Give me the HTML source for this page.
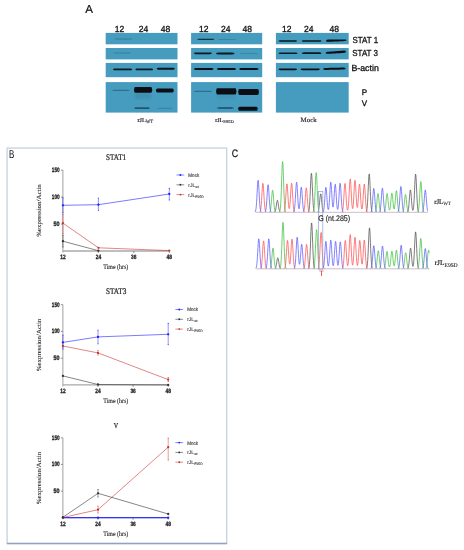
<!DOCTYPE html>
<html><head><meta charset="utf-8"><style>
html,body{margin:0;padding:0;background:#fff;}
body{width:464px;height:550px;overflow:hidden;font-family:"Liberation Sans",sans-serif;}
svg{display:block;will-change:transform;text-rendering:geometricPrecision;}
</style></head><body>
<svg width="464" height="550" viewBox="0 0 464 550">
<defs><filter id="bl" x="-10%" y="-100%" width="120%" height="300%"><feGaussianBlur stdDeviation="0.45"/></filter><filter id="bl2" x="-30%" y="-60%" width="160%" height="220%"><feGaussianBlur stdDeviation="1.3"/></filter></defs>
<text x="85.2" y="13.2" font-family="Liberation Sans" font-size="11.6" fill="#111" text-anchor="start" font-weight="normal" stroke="#111" stroke-width="0.2" >A</text>
<rect x="105.7" y="32.9" width="71.8" height="11.4" fill="#459cbf"/>
<rect x="105.7" y="48.0" width="71.8" height="11.4" fill="#459cbf"/>
<rect x="105.7" y="62.9" width="71.8" height="14.3" fill="#459cbf"/>
<rect x="105.7" y="82.1" width="71.8" height="30.5" fill="#459cbf"/>
<rect x="191.1" y="32.9" width="71.1" height="11.4" fill="#459cbf"/>
<rect x="191.1" y="48.0" width="71.1" height="11.4" fill="#459cbf"/>
<rect x="191.1" y="62.9" width="71.1" height="14.3" fill="#459cbf"/>
<rect x="191.1" y="82.1" width="71.1" height="30.5" fill="#459cbf"/>
<rect x="275.9" y="32.9" width="72.8" height="11.4" fill="#459cbf"/>
<rect x="275.9" y="48.0" width="72.8" height="11.4" fill="#459cbf"/>
<rect x="275.9" y="62.9" width="72.8" height="14.3" fill="#459cbf"/>
<rect x="275.9" y="82.1" width="72.8" height="30.5" fill="#459cbf"/>
<text x="114.7" y="31.6" font-family="Liberation Sans" font-size="8.9" fill="#111" text-anchor="start" font-weight="normal" textLength="9.5" lengthAdjust="spacingAndGlyphs" stroke="#111" stroke-width="0.3" >12</text>
<text x="138.8" y="31.6" font-family="Liberation Sans" font-size="8.9" fill="#111" text-anchor="start" font-weight="normal" textLength="9.5" lengthAdjust="spacingAndGlyphs" stroke="#111" stroke-width="0.3" >24</text>
<text x="160.8" y="31.6" font-family="Liberation Sans" font-size="8.9" fill="#111" text-anchor="start" font-weight="normal" textLength="9.5" lengthAdjust="spacingAndGlyphs" stroke="#111" stroke-width="0.3" >48</text>
<text x="199.0" y="31.6" font-family="Liberation Sans" font-size="8.9" fill="#111" text-anchor="start" font-weight="normal" textLength="9.5" lengthAdjust="spacingAndGlyphs" stroke="#111" stroke-width="0.3" >12</text>
<text x="221.0" y="31.6" font-family="Liberation Sans" font-size="8.9" fill="#111" text-anchor="start" font-weight="normal" textLength="9.5" lengthAdjust="spacingAndGlyphs" stroke="#111" stroke-width="0.3" >24</text>
<text x="242.5" y="31.6" font-family="Liberation Sans" font-size="8.9" fill="#111" text-anchor="start" font-weight="normal" textLength="9.5" lengthAdjust="spacingAndGlyphs" stroke="#111" stroke-width="0.3" >48</text>
<text x="282.0" y="31.6" font-family="Liberation Sans" font-size="8.9" fill="#111" text-anchor="start" font-weight="normal" textLength="9.5" lengthAdjust="spacingAndGlyphs" stroke="#111" stroke-width="0.3" >12</text>
<text x="304.1" y="31.6" font-family="Liberation Sans" font-size="8.9" fill="#111" text-anchor="start" font-weight="normal" textLength="9.5" lengthAdjust="spacingAndGlyphs" stroke="#111" stroke-width="0.3" >24</text>
<text x="329.5" y="31.6" font-family="Liberation Sans" font-size="8.9" fill="#111" text-anchor="start" font-weight="normal" textLength="9.5" lengthAdjust="spacingAndGlyphs" stroke="#111" stroke-width="0.3" >48</text>
<text x="352.5" y="42.7" font-family="Liberation Sans" font-size="8.8" fill="#111" text-anchor="start" font-weight="normal" textLength="25.7" lengthAdjust="spacingAndGlyphs" stroke="#111" stroke-width="0.3" >STAT 1</text>
<text x="352.3" y="56.0" font-family="Liberation Sans" font-size="8.8" fill="#111" text-anchor="start" font-weight="normal" textLength="25.7" lengthAdjust="spacingAndGlyphs" stroke="#111" stroke-width="0.3" >STAT 3</text>
<text x="351.4" y="71.2" font-family="Liberation Sans" font-size="8.8" fill="#111" text-anchor="start" font-weight="normal" textLength="27.4" lengthAdjust="spacingAndGlyphs" stroke="#111" stroke-width="0.3" >B-actin</text>
<text x="361.8" y="94.8" font-family="Liberation Sans" font-size="8.0" fill="#111" text-anchor="start" font-weight="normal" stroke="#111" stroke-width="0.3" >P</text>
<text x="361.8" y="105.9" font-family="Liberation Sans" font-size="8.0" fill="#111" text-anchor="start" font-weight="normal" stroke="#111" stroke-width="0.3" >V</text>
<text x="137.6" y="121.7" font-family="Liberation Serif" font-size="6.1" fill="#222" stroke="#222" stroke-width="0.2">rJL<tspan font-size="4.8" dy="1.0" stroke-width="0.1">WT</tspan></text>
<text x="215.2" y="121.7" font-family="Liberation Serif" font-size="6.1" fill="#222" stroke="#222" stroke-width="0.2">rJL<tspan font-size="4.5" dy="1.0" stroke-width="0.1">E95D</tspan></text>
<text x="300.6" y="121.6" font-family="Liberation Serif" font-size="6.6" fill="#222" text-anchor="start" font-weight="normal" textLength="16.1" lengthAdjust="spacingAndGlyphs" stroke="#222" stroke-width="0.15" >Mock</text>
<g filter="url(#bl)">
<path d="M114.60,39.00 L115.05,38.71 L115.50,38.61 L115.96,38.56 L116.41,38.52 L116.86,38.50 L117.31,38.50 L117.77,38.50 L118.22,38.50 L118.67,38.50 L119.12,38.50 L119.58,38.50 L120.03,38.50 L120.48,38.50 L120.93,38.50 L121.39,38.50 L121.84,38.50 L122.29,38.50 L122.74,38.50 L123.20,38.50 L123.65,38.50 L124.10,38.50 L124.55,38.50 L125.01,38.50 L125.46,38.50 L125.91,38.50 L126.36,38.50 L126.82,38.50 L127.27,38.50 L127.72,38.50 L128.17,38.50 L128.63,38.50 L129.08,38.50 L129.53,38.50 L129.98,38.50 L130.44,38.50 L130.89,38.52 L131.34,38.56 L131.79,38.61 L132.25,38.71 L132.70,39.00 L132.70,39.00 L132.25,39.29 L131.79,39.39 L131.34,39.44 L130.89,39.48 L130.44,39.50 L129.98,39.50 L129.53,39.50 L129.08,39.50 L128.63,39.50 L128.17,39.50 L127.72,39.50 L127.27,39.50 L126.82,39.50 L126.36,39.50 L125.91,39.50 L125.46,39.50 L125.01,39.50 L124.55,39.50 L124.10,39.50 L123.65,39.50 L123.20,39.50 L122.74,39.50 L122.29,39.50 L121.84,39.50 L121.39,39.50 L120.93,39.50 L120.48,39.50 L120.03,39.50 L119.58,39.50 L119.12,39.50 L118.67,39.50 L118.22,39.50 L117.77,39.50 L117.31,39.50 L116.86,39.50 L116.41,39.48 L115.96,39.44 L115.50,39.39 L115.05,39.29 L114.60,39.00Z" fill="#0a1013" fill-opacity="0.22"/>
<path d="M113.00,52.90 L113.45,52.61 L113.90,52.52 L114.35,52.46 L114.80,52.42 L115.25,52.40 L115.70,52.40 L116.15,52.40 L116.60,52.40 L117.05,52.40 L117.50,52.40 L117.95,52.40 L118.40,52.40 L118.85,52.40 L119.30,52.40 L119.75,52.40 L120.20,52.40 L120.65,52.40 L121.10,52.40 L121.55,52.40 L122.00,52.40 L122.45,52.40 L122.90,52.40 L123.35,52.40 L123.80,52.40 L124.25,52.40 L124.70,52.40 L125.15,52.40 L125.60,52.40 L126.05,52.40 L126.50,52.40 L126.95,52.40 L127.40,52.40 L127.85,52.40 L128.30,52.40 L128.75,52.40 L129.20,52.42 L129.65,52.46 L130.10,52.52 L130.55,52.61 L131.00,52.90 L131.00,52.90 L130.55,53.19 L130.10,53.28 L129.65,53.34 L129.20,53.38 L128.75,53.40 L128.30,53.40 L127.85,53.40 L127.40,53.40 L126.95,53.40 L126.50,53.40 L126.05,53.40 L125.60,53.40 L125.15,53.40 L124.70,53.40 L124.25,53.40 L123.80,53.40 L123.35,53.40 L122.90,53.40 L122.45,53.40 L122.00,53.40 L121.55,53.40 L121.10,53.40 L120.65,53.40 L120.20,53.40 L119.75,53.40 L119.30,53.40 L118.85,53.40 L118.40,53.40 L117.95,53.40 L117.50,53.40 L117.05,53.40 L116.60,53.40 L116.15,53.40 L115.70,53.40 L115.25,53.40 L114.80,53.38 L114.35,53.34 L113.90,53.28 L113.45,53.19 L113.00,52.90Z" fill="#0a1013" fill-opacity="0.2"/>
<path d="M113.00,69.40 L113.48,68.84 L113.96,68.65 L114.44,68.54 L114.92,68.48 L115.40,68.45 L115.88,68.45 L116.36,68.45 L116.84,68.45 L117.32,68.45 L117.80,68.45 L118.28,68.45 L118.76,68.45 L119.24,68.45 L119.72,68.45 L120.20,68.45 L120.68,68.45 L121.16,68.45 L121.64,68.45 L122.12,68.45 L122.60,68.45 L123.08,68.45 L123.56,68.45 L124.04,68.45 L124.52,68.45 L125.00,68.45 L125.48,68.45 L125.96,68.45 L126.44,68.45 L126.92,68.45 L127.40,68.45 L127.88,68.45 L128.36,68.45 L128.84,68.45 L129.32,68.45 L129.80,68.45 L130.28,68.48 L130.76,68.54 L131.24,68.65 L131.72,68.84 L132.20,69.40 L132.20,69.40 L131.72,69.96 L131.24,70.15 L130.76,70.26 L130.28,70.32 L129.80,70.35 L129.32,70.35 L128.84,70.35 L128.36,70.35 L127.88,70.35 L127.40,70.35 L126.92,70.35 L126.44,70.35 L125.96,70.35 L125.48,70.35 L125.00,70.35 L124.52,70.35 L124.04,70.35 L123.56,70.35 L123.08,70.35 L122.60,70.35 L122.12,70.35 L121.64,70.35 L121.16,70.35 L120.68,70.35 L120.20,70.35 L119.72,70.35 L119.24,70.35 L118.76,70.35 L118.28,70.35 L117.80,70.35 L117.32,70.35 L116.84,70.35 L116.36,70.35 L115.88,70.35 L115.40,70.35 L114.92,70.32 L114.44,70.26 L113.96,70.15 L113.48,69.96 L113.00,69.40Z" fill="#0a1013" fill-opacity="0.95"/>
<path d="M135.40,69.40 L135.84,68.86 L136.28,68.67 L136.73,68.56 L137.17,68.49 L137.61,68.46 L138.06,68.45 L138.50,68.45 L138.94,68.45 L139.38,68.45 L139.82,68.45 L140.27,68.45 L140.71,68.45 L141.15,68.45 L141.59,68.45 L142.04,68.45 L142.48,68.45 L142.92,68.45 L143.37,68.45 L143.81,68.45 L144.25,68.45 L144.69,68.45 L145.13,68.45 L145.58,68.45 L146.02,68.45 L146.46,68.45 L146.91,68.45 L147.35,68.45 L147.79,68.45 L148.23,68.45 L148.68,68.45 L149.12,68.45 L149.56,68.45 L150.00,68.45 L150.44,68.45 L150.89,68.46 L151.33,68.49 L151.77,68.56 L152.22,68.67 L152.66,68.86 L153.10,69.40 L153.10,69.40 L152.66,69.94 L152.22,70.13 L151.77,70.24 L151.33,70.31 L150.89,70.34 L150.44,70.35 L150.00,70.35 L149.56,70.35 L149.12,70.35 L148.68,70.35 L148.23,70.35 L147.79,70.35 L147.35,70.35 L146.91,70.35 L146.46,70.35 L146.02,70.35 L145.58,70.35 L145.13,70.35 L144.69,70.35 L144.25,70.35 L143.81,70.35 L143.37,70.35 L142.92,70.35 L142.48,70.35 L142.04,70.35 L141.59,70.35 L141.15,70.35 L140.71,70.35 L140.27,70.35 L139.82,70.35 L139.38,70.35 L138.94,70.35 L138.50,70.35 L138.06,70.35 L137.61,70.34 L137.17,70.31 L136.73,70.24 L136.28,70.13 L135.84,69.94 L135.40,69.40Z" fill="#0a1013" fill-opacity="0.95"/>
<path d="M156.70,68.70 L157.15,68.10 L157.60,67.89 L158.06,67.77 L158.51,67.69 L158.96,67.65 L159.41,67.65 L159.87,67.65 L160.32,67.65 L160.77,67.65 L161.22,67.65 L161.68,67.65 L162.13,67.65 L162.58,67.65 L163.03,67.65 L163.49,67.65 L163.94,67.65 L164.39,67.65 L164.84,67.65 L165.30,67.65 L165.75,67.65 L166.20,67.65 L166.66,67.65 L167.11,67.65 L167.56,67.65 L168.01,67.65 L168.47,67.65 L168.92,67.65 L169.37,67.65 L169.82,67.65 L170.28,67.65 L170.73,67.65 L171.18,67.65 L171.63,67.65 L172.09,67.65 L172.54,67.65 L172.99,67.69 L173.44,67.77 L173.90,67.89 L174.35,68.10 L174.80,68.70 L174.80,68.70 L174.35,69.30 L173.90,69.51 L173.44,69.63 L172.99,69.71 L172.54,69.75 L172.09,69.75 L171.63,69.75 L171.18,69.75 L170.73,69.75 L170.28,69.75 L169.82,69.75 L169.37,69.75 L168.92,69.75 L168.47,69.75 L168.01,69.75 L167.56,69.75 L167.11,69.75 L166.66,69.75 L166.20,69.75 L165.75,69.75 L165.30,69.75 L164.84,69.75 L164.39,69.75 L163.94,69.75 L163.49,69.75 L163.03,69.75 L162.58,69.75 L162.13,69.75 L161.68,69.75 L161.22,69.75 L160.77,69.75 L160.32,69.75 L159.87,69.75 L159.41,69.75 L158.96,69.75 L158.51,69.71 L158.06,69.63 L157.60,69.51 L157.15,69.30 L156.70,68.70Z" fill="#0a1013" fill-opacity="0.95"/>
<path d="M112.20,90.30 L112.64,89.96 L113.09,89.84 L113.53,89.77 L113.97,89.73 L114.41,89.70 L114.86,89.70 L115.30,89.70 L115.74,89.70 L116.18,89.70 L116.62,89.70 L117.07,89.70 L117.51,89.70 L117.95,89.70 L118.40,89.70 L118.84,89.70 L119.28,89.70 L119.72,89.70 L120.17,89.70 L120.61,89.70 L121.05,89.70 L121.49,89.70 L121.94,89.70 L122.38,89.70 L122.82,89.70 L123.26,89.70 L123.70,89.70 L124.15,89.70 L124.59,89.70 L125.03,89.70 L125.48,89.70 L125.92,89.70 L126.36,89.70 L126.80,89.70 L127.25,89.70 L127.69,89.70 L128.13,89.73 L128.57,89.77 L129.02,89.84 L129.46,89.96 L129.90,90.30 L129.90,90.30 L129.46,90.64 L129.02,90.76 L128.57,90.83 L128.13,90.87 L127.69,90.90 L127.25,90.90 L126.80,90.90 L126.36,90.90 L125.92,90.90 L125.48,90.90 L125.03,90.90 L124.59,90.90 L124.15,90.90 L123.70,90.90 L123.26,90.90 L122.82,90.90 L122.38,90.90 L121.94,90.90 L121.49,90.90 L121.05,90.90 L120.61,90.90 L120.17,90.90 L119.72,90.90 L119.28,90.90 L118.84,90.90 L118.40,90.90 L117.95,90.90 L117.51,90.90 L117.07,90.90 L116.62,90.90 L116.18,90.90 L115.74,90.90 L115.30,90.90 L114.86,90.90 L114.41,90.90 L113.97,90.87 L113.53,90.83 L113.09,90.76 L112.64,90.64 L112.20,90.30Z" fill="#0a1013" fill-opacity="0.3"/>
<path d="M133.90,89.90 L134.36,87.83 L134.82,87.27 L135.28,87.10 L135.74,87.10 L136.20,87.10 L136.66,87.10 L137.12,87.10 L137.58,87.10 L138.04,87.10 L138.50,87.10 L138.96,87.10 L139.42,87.10 L139.88,87.10 L140.34,87.10 L140.80,87.10 L141.26,87.10 L141.72,87.10 L142.18,87.10 L142.64,87.10 L143.10,87.10 L143.56,87.10 L144.02,87.10 L144.48,87.10 L144.94,87.10 L145.40,87.10 L145.86,87.10 L146.32,87.10 L146.78,87.10 L147.24,87.10 L147.70,87.10 L148.16,87.10 L148.62,87.10 L149.08,87.10 L149.54,87.10 L150.00,87.10 L150.46,87.10 L150.92,87.10 L151.38,87.27 L151.84,87.83 L152.30,89.90 L152.30,89.90 L151.84,91.97 L151.38,92.53 L150.92,92.70 L150.46,92.70 L150.00,92.70 L149.54,92.70 L149.08,92.70 L148.62,92.70 L148.16,92.70 L147.70,92.70 L147.24,92.70 L146.78,92.70 L146.32,92.70 L145.86,92.70 L145.40,92.70 L144.94,92.70 L144.48,92.70 L144.02,92.70 L143.56,92.70 L143.10,92.70 L142.64,92.70 L142.18,92.70 L141.72,92.70 L141.26,92.70 L140.80,92.70 L140.34,92.70 L139.88,92.70 L139.42,92.70 L138.96,92.70 L138.50,92.70 L138.04,92.70 L137.58,92.70 L137.12,92.70 L136.66,92.70 L136.20,92.70 L135.74,92.70 L135.28,92.70 L134.82,92.53 L134.36,91.97 L133.90,89.90Z" fill="#0a1013" fill-opacity="1.0"/>
<path d="M155.90,90.50 L156.35,89.11 L156.80,88.73 L157.24,88.60 L157.69,88.60 L158.14,88.60 L158.59,88.60 L159.03,88.60 L159.48,88.60 L159.93,88.60 L160.38,88.60 L160.82,88.60 L161.27,88.60 L161.72,88.60 L162.17,88.60 L162.61,88.60 L163.06,88.60 L163.51,88.60 L163.96,88.60 L164.40,88.60 L164.85,88.60 L165.30,88.60 L165.75,88.60 L166.19,88.60 L166.64,88.60 L167.09,88.60 L167.53,88.60 L167.98,88.60 L168.43,88.60 L168.88,88.60 L169.33,88.60 L169.77,88.60 L170.22,88.60 L170.67,88.60 L171.12,88.60 L171.56,88.60 L172.01,88.60 L172.46,88.60 L172.91,88.73 L173.35,89.11 L173.80,90.50 L173.80,90.50 L173.35,91.89 L172.91,92.27 L172.46,92.40 L172.01,92.40 L171.56,92.40 L171.12,92.40 L170.67,92.40 L170.22,92.40 L169.77,92.40 L169.33,92.40 L168.88,92.40 L168.43,92.40 L167.98,92.40 L167.53,92.40 L167.09,92.40 L166.64,92.40 L166.19,92.40 L165.75,92.40 L165.30,92.40 L164.85,92.40 L164.40,92.40 L163.96,92.40 L163.51,92.40 L163.06,92.40 L162.61,92.40 L162.17,92.40 L161.72,92.40 L161.27,92.40 L160.82,92.40 L160.38,92.40 L159.93,92.40 L159.48,92.40 L159.03,92.40 L158.59,92.40 L158.14,92.40 L157.69,92.40 L157.24,92.40 L156.80,92.27 L156.35,91.89 L155.90,90.50Z" fill="#0a1013" fill-opacity="1.0"/>
<path d="M134.20,108.10 L134.59,107.75 L134.98,107.63 L135.37,107.55 L135.76,107.50 L136.15,107.47 L136.54,107.45 L136.93,107.45 L137.32,107.45 L137.71,107.45 L138.10,107.45 L138.49,107.45 L138.88,107.45 L139.27,107.45 L139.66,107.45 L140.05,107.45 L140.44,107.45 L140.83,107.45 L141.22,107.45 L141.61,107.45 L142.00,107.45 L142.39,107.45 L142.78,107.45 L143.17,107.45 L143.56,107.45 L143.95,107.45 L144.34,107.45 L144.73,107.45 L145.12,107.45 L145.51,107.45 L145.90,107.45 L146.29,107.45 L146.68,107.45 L147.07,107.45 L147.46,107.45 L147.85,107.47 L148.24,107.50 L148.63,107.55 L149.02,107.63 L149.41,107.75 L149.80,108.10 L149.80,108.10 L149.41,108.45 L149.02,108.57 L148.63,108.65 L148.24,108.70 L147.85,108.73 L147.46,108.75 L147.07,108.75 L146.68,108.75 L146.29,108.75 L145.90,108.75 L145.51,108.75 L145.12,108.75 L144.73,108.75 L144.34,108.75 L143.95,108.75 L143.56,108.75 L143.17,108.75 L142.78,108.75 L142.39,108.75 L142.00,108.75 L141.61,108.75 L141.22,108.75 L140.83,108.75 L140.44,108.75 L140.05,108.75 L139.66,108.75 L139.27,108.75 L138.88,108.75 L138.49,108.75 L138.10,108.75 L137.71,108.75 L137.32,108.75 L136.93,108.75 L136.54,108.75 L136.15,108.73 L135.76,108.70 L135.37,108.65 L134.98,108.57 L134.59,108.45 L134.20,108.10Z" fill="#0a1013" fill-opacity="0.7"/>
<path d="M157.40,108.30 L157.78,108.04 L158.15,107.94 L158.53,107.88 L158.90,107.84 L159.28,107.82 L159.65,107.80 L160.03,107.80 L160.40,107.80 L160.78,107.80 L161.15,107.80 L161.53,107.80 L161.90,107.80 L162.28,107.80 L162.65,107.80 L163.03,107.80 L163.40,107.80 L163.78,107.80 L164.15,107.80 L164.53,107.80 L164.90,107.80 L165.28,107.80 L165.65,107.80 L166.03,107.80 L166.40,107.80 L166.78,107.80 L167.15,107.80 L167.53,107.80 L167.90,107.80 L168.28,107.80 L168.65,107.80 L169.03,107.80 L169.40,107.80 L169.78,107.80 L170.15,107.80 L170.53,107.82 L170.90,107.84 L171.28,107.88 L171.65,107.94 L172.03,108.04 L172.40,108.30 L172.40,108.30 L172.03,108.56 L171.65,108.66 L171.28,108.72 L170.90,108.76 L170.53,108.78 L170.15,108.80 L169.78,108.80 L169.40,108.80 L169.03,108.80 L168.65,108.80 L168.28,108.80 L167.90,108.80 L167.53,108.80 L167.15,108.80 L166.78,108.80 L166.40,108.80 L166.03,108.80 L165.65,108.80 L165.28,108.80 L164.90,108.80 L164.53,108.80 L164.15,108.80 L163.78,108.80 L163.40,108.80 L163.03,108.80 L162.65,108.80 L162.28,108.80 L161.90,108.80 L161.53,108.80 L161.15,108.80 L160.78,108.80 L160.40,108.80 L160.03,108.80 L159.65,108.80 L159.28,108.78 L158.90,108.76 L158.53,108.72 L158.15,108.66 L157.78,108.56 L157.40,108.30Z" fill="#0a1013" fill-opacity="0.2"/>
<path d="M197.20,39.30 L197.63,38.94 L198.06,38.81 L198.49,38.73 L198.92,38.68 L199.35,38.66 L199.78,38.65 L200.21,38.65 L200.64,38.65 L201.07,38.65 L201.50,38.65 L201.93,38.65 L202.36,38.65 L202.79,38.65 L203.22,38.65 L203.65,38.65 L204.08,38.65 L204.51,38.65 L204.94,38.65 L205.37,38.65 L205.80,38.65 L206.23,38.65 L206.66,38.65 L207.09,38.65 L207.52,38.65 L207.95,38.65 L208.38,38.65 L208.81,38.65 L209.24,38.65 L209.67,38.65 L210.10,38.65 L210.53,38.65 L210.96,38.65 L211.39,38.65 L211.82,38.65 L212.25,38.66 L212.68,38.68 L213.11,38.73 L213.54,38.81 L213.97,38.94 L214.40,39.30 L214.40,39.30 L213.97,39.66 L213.54,39.79 L213.11,39.87 L212.68,39.92 L212.25,39.94 L211.82,39.95 L211.39,39.95 L210.96,39.95 L210.53,39.95 L210.10,39.95 L209.67,39.95 L209.24,39.95 L208.81,39.95 L208.38,39.95 L207.95,39.95 L207.52,39.95 L207.09,39.95 L206.66,39.95 L206.23,39.95 L205.80,39.95 L205.37,39.95 L204.94,39.95 L204.51,39.95 L204.08,39.95 L203.65,39.95 L203.22,39.95 L202.79,39.95 L202.36,39.95 L201.93,39.95 L201.50,39.95 L201.07,39.95 L200.64,39.95 L200.21,39.95 L199.78,39.95 L199.35,39.94 L198.92,39.92 L198.49,39.87 L198.06,39.79 L197.63,39.66 L197.20,39.30Z" fill="#0a1013" fill-opacity="0.75"/>
<path d="M217.70,39.50 L218.17,39.21 L218.64,39.11 L219.11,39.05 L219.58,39.02 L220.05,39.00 L220.52,39.00 L220.99,39.00 L221.46,39.00 L221.93,39.00 L222.40,39.00 L222.87,39.00 L223.34,39.00 L223.81,39.00 L224.28,39.00 L224.75,39.00 L225.22,39.00 L225.69,39.00 L226.16,39.00 L226.63,39.00 L227.10,39.00 L227.57,39.00 L228.04,39.00 L228.51,39.00 L228.98,39.00 L229.45,39.00 L229.92,39.00 L230.39,39.00 L230.86,39.00 L231.33,39.00 L231.80,39.00 L232.27,39.00 L232.74,39.00 L233.21,39.00 L233.68,39.00 L234.15,39.00 L234.62,39.02 L235.09,39.05 L235.56,39.11 L236.03,39.21 L236.50,39.50 L236.50,39.50 L236.03,39.79 L235.56,39.89 L235.09,39.95 L234.62,39.98 L234.15,40.00 L233.68,40.00 L233.21,40.00 L232.74,40.00 L232.27,40.00 L231.80,40.00 L231.33,40.00 L230.86,40.00 L230.39,40.00 L229.92,40.00 L229.45,40.00 L228.98,40.00 L228.51,40.00 L228.04,40.00 L227.57,40.00 L227.10,40.00 L226.63,40.00 L226.16,40.00 L225.69,40.00 L225.22,40.00 L224.75,40.00 L224.28,40.00 L223.81,40.00 L223.34,40.00 L222.87,40.00 L222.40,40.00 L221.93,40.00 L221.46,40.00 L220.99,40.00 L220.52,40.00 L220.05,40.00 L219.58,39.98 L219.11,39.95 L218.64,39.89 L218.17,39.79 L217.70,39.50Z" fill="#0a1013" fill-opacity="0.15"/>
<path d="M193.90,53.30 L194.35,52.78 L194.80,52.61 L195.25,52.50 L195.70,52.44 L196.15,52.40 L196.60,52.40 L197.05,52.40 L197.50,52.40 L197.95,52.40 L198.40,52.40 L198.85,52.40 L199.30,52.40 L199.75,52.40 L200.20,52.40 L200.65,52.40 L201.10,52.40 L201.55,52.40 L202.00,52.40 L202.45,52.40 L202.90,52.40 L203.35,52.40 L203.80,52.40 L204.25,52.40 L204.70,52.40 L205.15,52.40 L205.60,52.40 L206.05,52.40 L206.50,52.40 L206.95,52.40 L207.40,52.40 L207.85,52.40 L208.30,52.40 L208.75,52.40 L209.20,52.40 L209.65,52.40 L210.10,52.44 L210.55,52.50 L211.00,52.61 L211.45,52.78 L211.90,53.30 L211.90,53.30 L211.45,53.82 L211.00,53.99 L210.55,54.10 L210.10,54.16 L209.65,54.20 L209.20,54.20 L208.75,54.20 L208.30,54.20 L207.85,54.20 L207.40,54.20 L206.95,54.20 L206.50,54.20 L206.05,54.20 L205.60,54.20 L205.15,54.20 L204.70,54.20 L204.25,54.20 L203.80,54.20 L203.35,54.20 L202.90,54.20 L202.45,54.20 L202.00,54.20 L201.55,54.20 L201.10,54.20 L200.65,54.20 L200.20,54.20 L199.75,54.20 L199.30,54.20 L198.85,54.20 L198.40,54.20 L197.95,54.20 L197.50,54.20 L197.05,54.20 L196.60,54.20 L196.15,54.20 L195.70,54.16 L195.25,54.10 L194.80,53.99 L194.35,53.82 L193.90,53.30Z" fill="#0a1013" fill-opacity="0.95"/>
<path d="M216.00,53.50 L216.46,52.98 L216.93,52.80 L217.39,52.69 L217.85,52.63 L218.31,52.60 L218.78,52.60 L219.24,52.60 L219.70,52.60 L220.16,52.60 L220.62,52.60 L221.09,52.60 L221.55,52.60 L222.01,52.60 L222.47,52.60 L222.94,52.60 L223.40,52.60 L223.86,52.60 L224.32,52.60 L224.79,52.60 L225.25,52.60 L225.71,52.60 L226.18,52.60 L226.64,52.60 L227.10,52.60 L227.56,52.60 L228.03,52.60 L228.49,52.60 L228.95,52.60 L229.41,52.60 L229.88,52.60 L230.34,52.60 L230.80,52.60 L231.26,52.60 L231.72,52.60 L232.19,52.60 L232.65,52.63 L233.11,52.69 L233.57,52.80 L234.04,52.98 L234.50,53.50 L234.50,53.50 L234.04,54.02 L233.57,54.20 L233.11,54.31 L232.65,54.37 L232.19,54.40 L231.72,54.40 L231.26,54.40 L230.80,54.40 L230.34,54.40 L229.88,54.40 L229.41,54.40 L228.95,54.40 L228.49,54.40 L228.03,54.40 L227.56,54.40 L227.10,54.40 L226.64,54.40 L226.18,54.40 L225.71,54.40 L225.25,54.40 L224.79,54.40 L224.32,54.40 L223.86,54.40 L223.40,54.40 L222.94,54.40 L222.47,54.40 L222.01,54.40 L221.55,54.40 L221.09,54.40 L220.62,54.40 L220.16,54.40 L219.70,54.40 L219.24,54.40 L218.78,54.40 L218.31,54.40 L217.85,54.37 L217.39,54.31 L216.93,54.20 L216.46,54.02 L216.00,53.50Z" fill="#0a1013" fill-opacity="0.95"/>
<path d="M239.80,53.50 L240.25,53.21 L240.70,53.12 L241.15,53.06 L241.60,53.02 L242.05,53.00 L242.50,53.00 L242.95,53.00 L243.40,53.00 L243.85,53.00 L244.30,53.00 L244.75,53.00 L245.20,53.00 L245.65,53.00 L246.10,53.00 L246.55,53.00 L247.00,53.00 L247.45,53.00 L247.90,53.00 L248.35,53.00 L248.80,53.00 L249.25,53.00 L249.70,53.00 L250.15,53.00 L250.60,53.00 L251.05,53.00 L251.50,53.00 L251.95,53.00 L252.40,53.00 L252.85,53.00 L253.30,53.00 L253.75,53.00 L254.20,53.00 L254.65,53.00 L255.10,53.00 L255.55,53.00 L256.00,53.02 L256.45,53.06 L256.90,53.12 L257.35,53.21 L257.80,53.50 L257.80,53.50 L257.35,53.79 L256.90,53.88 L256.45,53.94 L256.00,53.98 L255.55,54.00 L255.10,54.00 L254.65,54.00 L254.20,54.00 L253.75,54.00 L253.30,54.00 L252.85,54.00 L252.40,54.00 L251.95,54.00 L251.50,54.00 L251.05,54.00 L250.60,54.00 L250.15,54.00 L249.70,54.00 L249.25,54.00 L248.80,54.00 L248.35,54.00 L247.90,54.00 L247.45,54.00 L247.00,54.00 L246.55,54.00 L246.10,54.00 L245.65,54.00 L245.20,54.00 L244.75,54.00 L244.30,54.00 L243.85,54.00 L243.40,54.00 L242.95,54.00 L242.50,54.00 L242.05,54.00 L241.60,53.98 L241.15,53.94 L240.70,53.88 L240.25,53.79 L239.80,53.50Z" fill="#0a1013" fill-opacity="0.15"/>
<path d="M193.90,69.00 L194.39,68.40 L194.88,68.20 L195.38,68.09 L195.87,68.02 L196.36,68.00 L196.86,68.00 L197.35,68.00 L197.84,68.00 L198.33,68.00 L198.82,68.00 L199.32,68.00 L199.81,68.00 L200.30,68.00 L200.80,68.00 L201.29,68.00 L201.78,68.00 L202.27,68.00 L202.76,68.00 L203.26,68.00 L203.75,68.00 L204.24,68.00 L204.74,68.00 L205.23,68.00 L205.72,68.00 L206.21,68.00 L206.70,68.00 L207.20,68.00 L207.69,68.00 L208.18,68.00 L208.68,68.00 L209.17,68.00 L209.66,68.00 L210.15,68.00 L210.64,68.00 L211.14,68.00 L211.63,68.02 L212.12,68.09 L212.62,68.20 L213.11,68.40 L213.60,69.00 L213.60,69.00 L213.11,69.60 L212.62,69.80 L212.12,69.91 L211.63,69.98 L211.14,70.00 L210.64,70.00 L210.15,70.00 L209.66,70.00 L209.17,70.00 L208.68,70.00 L208.18,70.00 L207.69,70.00 L207.20,70.00 L206.70,70.00 L206.21,70.00 L205.72,70.00 L205.23,70.00 L204.74,70.00 L204.24,70.00 L203.75,70.00 L203.26,70.00 L202.76,70.00 L202.27,70.00 L201.78,70.00 L201.29,70.00 L200.80,70.00 L200.30,70.00 L199.81,70.00 L199.32,70.00 L198.82,70.00 L198.33,70.00 L197.84,70.00 L197.35,70.00 L196.86,70.00 L196.36,70.00 L195.87,69.98 L195.38,69.91 L194.88,69.80 L194.39,69.60 L193.90,69.00Z" fill="#0a1013" fill-opacity="1.0"/>
<path d="M216.80,69.00 L217.29,68.41 L217.77,68.21 L218.25,68.09 L218.74,68.03 L219.23,68.00 L219.71,68.00 L220.19,68.00 L220.68,68.00 L221.17,68.00 L221.65,68.00 L222.13,68.00 L222.62,68.00 L223.11,68.00 L223.59,68.00 L224.07,68.00 L224.56,68.00 L225.05,68.00 L225.53,68.00 L226.01,68.00 L226.50,68.00 L226.99,68.00 L227.47,68.00 L227.95,68.00 L228.44,68.00 L228.93,68.00 L229.41,68.00 L229.89,68.00 L230.38,68.00 L230.87,68.00 L231.35,68.00 L231.83,68.00 L232.32,68.00 L232.81,68.00 L233.29,68.00 L233.77,68.00 L234.26,68.03 L234.75,68.09 L235.23,68.21 L235.71,68.41 L236.20,69.00 L236.20,69.00 L235.71,69.59 L235.23,69.79 L234.75,69.91 L234.26,69.97 L233.77,70.00 L233.29,70.00 L232.81,70.00 L232.32,70.00 L231.83,70.00 L231.35,70.00 L230.87,70.00 L230.38,70.00 L229.89,70.00 L229.41,70.00 L228.93,70.00 L228.44,70.00 L227.95,70.00 L227.47,70.00 L226.99,70.00 L226.50,70.00 L226.01,70.00 L225.53,70.00 L225.05,70.00 L224.56,70.00 L224.07,70.00 L223.59,70.00 L223.11,70.00 L222.62,70.00 L222.13,70.00 L221.65,70.00 L221.17,70.00 L220.68,70.00 L220.19,70.00 L219.71,70.00 L219.23,70.00 L218.74,69.97 L218.25,69.91 L217.77,69.79 L217.29,69.59 L216.80,69.00Z" fill="#0a1013" fill-opacity="1.0"/>
<path d="M239.00,69.00 L239.49,68.41 L239.98,68.21 L240.47,68.09 L240.96,68.02 L241.45,68.00 L241.94,68.00 L242.43,68.00 L242.92,68.00 L243.41,68.00 L243.90,68.00 L244.39,68.00 L244.88,68.00 L245.37,68.00 L245.86,68.00 L246.35,68.00 L246.84,68.00 L247.33,68.00 L247.82,68.00 L248.31,68.00 L248.80,68.00 L249.29,68.00 L249.78,68.00 L250.27,68.00 L250.76,68.00 L251.25,68.00 L251.74,68.00 L252.23,68.00 L252.72,68.00 L253.21,68.00 L253.70,68.00 L254.19,68.00 L254.68,68.00 L255.17,68.00 L255.66,68.00 L256.15,68.00 L256.64,68.02 L257.13,68.09 L257.62,68.21 L258.11,68.41 L258.60,69.00 L258.60,69.00 L258.11,69.59 L257.62,69.79 L257.13,69.91 L256.64,69.98 L256.15,70.00 L255.66,70.00 L255.17,70.00 L254.68,70.00 L254.19,70.00 L253.70,70.00 L253.21,70.00 L252.72,70.00 L252.23,70.00 L251.74,70.00 L251.25,70.00 L250.76,70.00 L250.27,70.00 L249.78,70.00 L249.29,70.00 L248.80,70.00 L248.31,70.00 L247.82,70.00 L247.33,70.00 L246.84,70.00 L246.35,70.00 L245.86,70.00 L245.37,70.00 L244.88,70.00 L244.39,70.00 L243.90,70.00 L243.41,70.00 L242.92,70.00 L242.43,70.00 L241.94,70.00 L241.45,70.00 L240.96,69.98 L240.47,69.91 L239.98,69.79 L239.49,69.59 L239.00,69.00Z" fill="#0a1013" fill-opacity="1.0"/>
<path d="M193.90,91.40 L194.35,91.09 L194.80,90.98 L195.25,90.91 L195.70,90.87 L196.15,90.85 L196.60,90.85 L197.05,90.85 L197.50,90.85 L197.95,90.85 L198.40,90.85 L198.85,90.85 L199.30,90.85 L199.75,90.85 L200.20,90.85 L200.65,90.85 L201.10,90.85 L201.55,90.85 L202.00,90.85 L202.45,90.85 L202.90,90.85 L203.35,90.85 L203.80,90.85 L204.25,90.85 L204.70,90.85 L205.15,90.85 L205.60,90.85 L206.05,90.85 L206.50,90.85 L206.95,90.85 L207.40,90.85 L207.85,90.85 L208.30,90.85 L208.75,90.85 L209.20,90.85 L209.65,90.85 L210.10,90.87 L210.55,90.91 L211.00,90.98 L211.45,91.09 L211.90,91.40 L211.90,91.40 L211.45,91.71 L211.00,91.82 L210.55,91.89 L210.10,91.93 L209.65,91.95 L209.20,91.95 L208.75,91.95 L208.30,91.95 L207.85,91.95 L207.40,91.95 L206.95,91.95 L206.50,91.95 L206.05,91.95 L205.60,91.95 L205.15,91.95 L204.70,91.95 L204.25,91.95 L203.80,91.95 L203.35,91.95 L202.90,91.95 L202.45,91.95 L202.00,91.95 L201.55,91.95 L201.10,91.95 L200.65,91.95 L200.20,91.95 L199.75,91.95 L199.30,91.95 L198.85,91.95 L198.40,91.95 L197.95,91.95 L197.50,91.95 L197.05,91.95 L196.60,91.95 L196.15,91.95 L195.70,91.93 L195.25,91.89 L194.80,91.82 L194.35,91.71 L193.90,91.40Z" fill="#0a1013" fill-opacity="0.3"/>
<path d="M216.00,91.40 L216.51,88.93 L217.03,88.32 L217.54,88.20 L218.05,88.20 L218.56,88.20 L219.07,88.20 L219.59,88.20 L220.10,88.20 L220.61,88.20 L221.12,88.20 L221.64,88.20 L222.15,88.20 L222.66,88.20 L223.18,88.20 L223.69,88.20 L224.20,88.20 L224.71,88.20 L225.22,88.20 L225.74,88.20 L226.25,88.20 L226.76,88.20 L227.28,88.20 L227.79,88.20 L228.30,88.20 L228.81,88.20 L229.32,88.20 L229.84,88.20 L230.35,88.20 L230.86,88.20 L231.38,88.20 L231.89,88.20 L232.40,88.20 L232.91,88.20 L233.43,88.20 L233.94,88.20 L234.45,88.20 L234.96,88.20 L235.47,88.32 L235.99,88.93 L236.50,91.40 L236.50,91.40 L235.99,93.87 L235.47,94.48 L234.96,94.60 L234.45,94.60 L233.94,94.60 L233.43,94.60 L232.91,94.60 L232.40,94.60 L231.89,94.60 L231.38,94.60 L230.86,94.60 L230.35,94.60 L229.84,94.60 L229.32,94.60 L228.81,94.60 L228.30,94.60 L227.79,94.60 L227.28,94.60 L226.76,94.60 L226.25,94.60 L225.74,94.60 L225.22,94.60 L224.71,94.60 L224.20,94.60 L223.69,94.60 L223.18,94.60 L222.66,94.60 L222.15,94.60 L221.64,94.60 L221.12,94.60 L220.61,94.60 L220.10,94.60 L219.59,94.60 L219.07,94.60 L218.56,94.60 L218.05,94.60 L217.54,94.60 L217.03,94.48 L216.51,93.87 L216.00,91.40Z" fill="#0a1013" fill-opacity="1.0"/>
<path d="M238.10,92.00 L238.62,89.74 L239.14,89.19 L239.67,89.10 L240.19,89.10 L240.71,89.10 L241.23,89.10 L241.76,89.10 L242.28,89.10 L242.80,89.10 L243.32,89.10 L243.85,89.10 L244.37,89.10 L244.89,89.10 L245.41,89.10 L245.94,89.10 L246.46,89.10 L246.98,89.10 L247.50,89.10 L248.03,89.10 L248.55,89.10 L249.07,89.10 L249.59,89.10 L250.12,89.10 L250.64,89.10 L251.16,89.10 L251.69,89.10 L252.21,89.10 L252.73,89.10 L253.25,89.10 L253.78,89.10 L254.30,89.10 L254.82,89.10 L255.34,89.10 L255.87,89.10 L256.39,89.10 L256.91,89.10 L257.43,89.10 L257.95,89.19 L258.48,89.74 L259.00,92.00 L259.00,92.00 L258.48,94.26 L257.95,94.81 L257.43,94.90 L256.91,94.90 L256.39,94.90 L255.87,94.90 L255.34,94.90 L254.82,94.90 L254.30,94.90 L253.78,94.90 L253.25,94.90 L252.73,94.90 L252.21,94.90 L251.69,94.90 L251.16,94.90 L250.64,94.90 L250.12,94.90 L249.59,94.90 L249.07,94.90 L248.55,94.90 L248.03,94.90 L247.50,94.90 L246.98,94.90 L246.46,94.90 L245.94,94.90 L245.41,94.90 L244.89,94.90 L244.37,94.90 L243.85,94.90 L243.32,94.90 L242.80,94.90 L242.28,94.90 L241.76,94.90 L241.23,94.90 L240.71,94.90 L240.19,94.90 L239.67,94.90 L239.14,94.81 L238.62,94.26 L238.10,92.00Z" fill="#0a1013" fill-opacity="1.0"/>
<path d="M216.80,108.00 L217.23,107.64 L217.66,107.51 L218.09,107.43 L218.52,107.38 L218.95,107.36 L219.38,107.35 L219.81,107.35 L220.24,107.35 L220.67,107.35 L221.10,107.35 L221.53,107.35 L221.96,107.35 L222.39,107.35 L222.82,107.35 L223.25,107.35 L223.68,107.35 L224.11,107.35 L224.54,107.35 L224.97,107.35 L225.40,107.35 L225.83,107.35 L226.26,107.35 L226.69,107.35 L227.12,107.35 L227.55,107.35 L227.98,107.35 L228.41,107.35 L228.84,107.35 L229.27,107.35 L229.70,107.35 L230.13,107.35 L230.56,107.35 L230.99,107.35 L231.42,107.35 L231.85,107.36 L232.28,107.38 L232.71,107.43 L233.14,107.51 L233.57,107.64 L234.00,108.00 L234.00,108.00 L233.57,108.36 L233.14,108.49 L232.71,108.57 L232.28,108.62 L231.85,108.64 L231.42,108.65 L230.99,108.65 L230.56,108.65 L230.13,108.65 L229.70,108.65 L229.27,108.65 L228.84,108.65 L228.41,108.65 L227.98,108.65 L227.55,108.65 L227.12,108.65 L226.69,108.65 L226.26,108.65 L225.83,108.65 L225.40,108.65 L224.97,108.65 L224.54,108.65 L224.11,108.65 L223.68,108.65 L223.25,108.65 L222.82,108.65 L222.39,108.65 L221.96,108.65 L221.53,108.65 L221.10,108.65 L220.67,108.65 L220.24,108.65 L219.81,108.65 L219.38,108.65 L218.95,108.64 L218.52,108.62 L218.09,108.57 L217.66,108.49 L217.23,108.36 L216.80,108.00Z" fill="#0a1013" fill-opacity="0.55"/>
<path d="M238.10,108.80 L238.59,107.28 L239.09,106.89 L239.58,106.80 L240.07,106.80 L240.56,106.80 L241.06,106.80 L241.55,106.80 L242.04,106.80 L242.53,106.80 L243.03,106.80 L243.52,106.80 L244.01,106.80 L244.50,106.80 L245.00,106.80 L245.49,106.80 L245.98,106.80 L246.47,106.80 L246.97,106.80 L247.46,106.80 L247.95,106.80 L248.44,106.80 L248.94,106.80 L249.43,106.80 L249.92,106.80 L250.41,106.80 L250.91,106.80 L251.40,106.80 L251.89,106.80 L252.38,106.80 L252.88,106.80 L253.37,106.80 L253.86,106.80 L254.35,106.80 L254.84,106.80 L255.34,106.80 L255.83,106.80 L256.32,106.80 L256.81,106.89 L257.31,107.28 L257.80,108.80 L257.80,108.80 L257.31,110.32 L256.81,110.71 L256.32,110.80 L255.83,110.80 L255.34,110.80 L254.84,110.80 L254.35,110.80 L253.86,110.80 L253.37,110.80 L252.88,110.80 L252.38,110.80 L251.89,110.80 L251.40,110.80 L250.91,110.80 L250.41,110.80 L249.92,110.80 L249.43,110.80 L248.94,110.80 L248.44,110.80 L247.95,110.80 L247.46,110.80 L246.97,110.80 L246.47,110.80 L245.98,110.80 L245.49,110.80 L245.00,110.80 L244.50,110.80 L244.01,110.80 L243.52,110.80 L243.03,110.80 L242.53,110.80 L242.04,110.80 L241.55,110.80 L241.06,110.80 L240.56,110.80 L240.07,110.80 L239.58,110.80 L239.09,110.71 L238.59,110.32 L238.10,108.80Z" fill="#0a1013" fill-opacity="1.0"/>
<path d="M278.50,41.00 L278.96,40.56 L279.43,40.42 L279.89,40.33 L280.36,40.27 L280.82,40.25 L281.29,40.25 L281.75,40.25 L282.22,40.25 L282.69,40.25 L283.15,40.25 L283.62,40.25 L284.08,40.25 L284.55,40.25 L285.01,40.25 L285.48,40.25 L285.94,40.25 L286.41,40.25 L286.87,40.25 L287.34,40.25 L287.80,40.25 L288.26,40.25 L288.73,40.25 L289.19,40.25 L289.66,40.25 L290.12,40.25 L290.59,40.25 L291.06,40.25 L291.52,40.25 L291.99,40.25 L292.45,40.25 L292.92,40.25 L293.38,40.25 L293.85,40.25 L294.31,40.25 L294.78,40.25 L295.24,40.27 L295.71,40.33 L296.17,40.42 L296.64,40.56 L297.10,41.00 L297.10,41.00 L296.64,41.44 L296.17,41.58 L295.71,41.67 L295.24,41.73 L294.78,41.75 L294.31,41.75 L293.85,41.75 L293.38,41.75 L292.92,41.75 L292.45,41.75 L291.99,41.75 L291.52,41.75 L291.06,41.75 L290.59,41.75 L290.12,41.75 L289.66,41.75 L289.19,41.75 L288.73,41.75 L288.26,41.75 L287.80,41.75 L287.34,41.75 L286.87,41.75 L286.41,41.75 L285.94,41.75 L285.48,41.75 L285.01,41.75 L284.55,41.75 L284.08,41.75 L283.62,41.75 L283.15,41.75 L282.69,41.75 L282.22,41.75 L281.75,41.75 L281.29,41.75 L280.82,41.75 L280.36,41.73 L279.89,41.67 L279.43,41.58 L278.96,41.44 L278.50,41.00Z" fill="#0a1013" fill-opacity="0.95"/>
<path d="M301.80,41.00 L302.29,40.52 L302.79,40.36 L303.28,40.27 L303.77,40.22 L304.26,40.20 L304.75,40.20 L305.25,40.20 L305.74,40.20 L306.23,40.20 L306.73,40.20 L307.22,40.20 L307.71,40.20 L308.20,40.20 L308.69,40.20 L309.19,40.20 L309.68,40.20 L310.17,40.20 L310.67,40.20 L311.16,40.20 L311.65,40.20 L312.14,40.20 L312.63,40.20 L313.13,40.20 L313.62,40.20 L314.11,40.20 L314.61,40.20 L315.10,40.20 L315.59,40.20 L316.08,40.20 L316.57,40.20 L317.07,40.20 L317.56,40.20 L318.05,40.20 L318.55,40.20 L319.04,40.20 L319.53,40.22 L320.02,40.27 L320.51,40.36 L321.01,40.52 L321.50,41.00 L321.50,41.00 L321.01,41.48 L320.51,41.64 L320.02,41.73 L319.53,41.78 L319.04,41.80 L318.55,41.80 L318.05,41.80 L317.56,41.80 L317.07,41.80 L316.57,41.80 L316.08,41.80 L315.59,41.80 L315.10,41.80 L314.61,41.80 L314.11,41.80 L313.62,41.80 L313.13,41.80 L312.63,41.80 L312.14,41.80 L311.65,41.80 L311.16,41.80 L310.67,41.80 L310.17,41.80 L309.68,41.80 L309.19,41.80 L308.69,41.80 L308.20,41.80 L307.71,41.80 L307.22,41.80 L306.73,41.80 L306.23,41.80 L305.74,41.80 L305.25,41.80 L304.75,41.80 L304.26,41.80 L303.77,41.78 L303.28,41.73 L302.79,41.64 L302.29,41.48 L301.80,41.00Z" fill="#0a1013" fill-opacity="0.95"/>
<path d="M326.00,40.80 L326.51,40.06 L327.02,39.82 L327.54,39.68 L328.05,39.60 L328.56,39.57 L329.07,39.57 L329.59,39.56 L330.10,39.56 L330.61,39.55 L331.12,39.55 L331.64,39.54 L332.15,39.54 L332.66,39.53 L333.18,39.53 L333.69,39.52 L334.20,39.52 L334.71,39.51 L335.23,39.51 L335.74,39.50 L336.25,39.50 L336.76,39.49 L337.27,39.49 L337.79,39.48 L338.30,39.48 L338.81,39.47 L339.32,39.47 L339.84,39.46 L340.35,39.46 L340.86,39.45 L341.38,39.45 L341.89,39.45 L342.40,39.44 L342.91,39.44 L343.43,39.43 L343.94,39.42 L344.45,39.43 L344.96,39.48 L345.48,39.57 L345.99,39.72 L346.50,40.20 L346.50,40.20 L345.99,40.71 L345.48,40.89 L344.96,41.01 L344.45,41.09 L343.94,41.12 L343.43,41.15 L342.91,41.17 L342.40,41.20 L341.89,41.23 L341.38,41.25 L340.86,41.27 L340.35,41.30 L339.84,41.32 L339.32,41.35 L338.81,41.38 L338.30,41.40 L337.79,41.42 L337.27,41.45 L336.76,41.48 L336.25,41.50 L335.74,41.52 L335.23,41.55 L334.71,41.57 L334.20,41.60 L333.69,41.62 L333.18,41.65 L332.66,41.67 L332.15,41.70 L331.64,41.73 L331.12,41.75 L330.61,41.77 L330.10,41.80 L329.59,41.83 L329.07,41.85 L328.56,41.87 L328.05,41.88 L327.54,41.83 L327.02,41.72 L326.51,41.51 L326.00,40.80Z" fill="#0a1013" fill-opacity="1.0"/>
<path d="M278.60,53.30 L279.07,52.86 L279.55,52.71 L280.02,52.62 L280.49,52.57 L280.96,52.55 L281.44,52.55 L281.91,52.55 L282.38,52.55 L282.85,52.55 L283.33,52.55 L283.80,52.55 L284.27,52.55 L284.74,52.55 L285.22,52.55 L285.69,52.55 L286.16,52.55 L286.63,52.55 L287.11,52.55 L287.58,52.55 L288.05,52.55 L288.52,52.55 L289.00,52.55 L289.47,52.55 L289.94,52.55 L290.41,52.55 L290.88,52.55 L291.36,52.55 L291.83,52.55 L292.30,52.55 L292.77,52.55 L293.25,52.55 L293.72,52.55 L294.19,52.55 L294.67,52.55 L295.14,52.55 L295.61,52.57 L296.08,52.62 L296.56,52.71 L297.03,52.86 L297.50,53.30 L297.50,53.30 L297.03,53.74 L296.56,53.89 L296.08,53.98 L295.61,54.03 L295.14,54.05 L294.67,54.05 L294.19,54.05 L293.72,54.05 L293.25,54.05 L292.77,54.05 L292.30,54.05 L291.83,54.05 L291.36,54.05 L290.88,54.05 L290.41,54.05 L289.94,54.05 L289.47,54.05 L289.00,54.05 L288.52,54.05 L288.05,54.05 L287.58,54.05 L287.11,54.05 L286.63,54.05 L286.16,54.05 L285.69,54.05 L285.22,54.05 L284.74,54.05 L284.27,54.05 L283.80,54.05 L283.33,54.05 L282.85,54.05 L282.38,54.05 L281.91,54.05 L281.44,54.05 L280.96,54.05 L280.49,54.03 L280.02,53.98 L279.55,53.89 L279.07,53.74 L278.60,53.30Z" fill="#0a1013" fill-opacity="0.95"/>
<path d="M301.80,53.20 L302.29,52.69 L302.79,52.52 L303.28,52.42 L303.77,52.37 L304.26,52.35 L304.75,52.35 L305.25,52.35 L305.74,52.35 L306.23,52.35 L306.73,52.35 L307.22,52.35 L307.71,52.35 L308.20,52.35 L308.69,52.35 L309.19,52.35 L309.68,52.35 L310.17,52.35 L310.67,52.35 L311.16,52.35 L311.65,52.35 L312.14,52.35 L312.63,52.35 L313.13,52.35 L313.62,52.35 L314.11,52.35 L314.61,52.35 L315.10,52.35 L315.59,52.35 L316.08,52.35 L316.57,52.35 L317.07,52.35 L317.56,52.35 L318.05,52.35 L318.55,52.35 L319.04,52.35 L319.53,52.37 L320.02,52.42 L320.51,52.52 L321.01,52.69 L321.50,53.20 L321.50,53.20 L321.01,53.71 L320.51,53.88 L320.02,53.98 L319.53,54.03 L319.04,54.05 L318.55,54.05 L318.05,54.05 L317.56,54.05 L317.07,54.05 L316.57,54.05 L316.08,54.05 L315.59,54.05 L315.10,54.05 L314.61,54.05 L314.11,54.05 L313.62,54.05 L313.13,54.05 L312.63,54.05 L312.14,54.05 L311.65,54.05 L311.16,54.05 L310.67,54.05 L310.17,54.05 L309.68,54.05 L309.19,54.05 L308.69,54.05 L308.20,54.05 L307.71,54.05 L307.22,54.05 L306.73,54.05 L306.23,54.05 L305.74,54.05 L305.25,54.05 L304.75,54.05 L304.26,54.05 L303.77,54.03 L303.28,53.98 L302.79,53.88 L302.29,53.71 L301.80,53.20Z" fill="#0a1013" fill-opacity="0.95"/>
<path d="M325.60,53.00 L326.11,52.36 L326.62,52.12 L327.13,51.96 L327.64,51.86 L328.15,51.80 L328.66,51.76 L329.17,51.72 L329.68,51.68 L330.19,51.64 L330.70,51.60 L331.21,51.56 L331.72,51.52 L332.23,51.48 L332.74,51.44 L333.25,51.40 L333.76,51.36 L334.27,51.32 L334.78,51.28 L335.29,51.24 L335.80,51.20 L336.31,51.16 L336.82,51.12 L337.33,51.08 L337.84,51.04 L338.35,51.00 L338.86,50.96 L339.37,50.92 L339.88,50.88 L340.39,50.84 L340.90,50.80 L341.41,50.76 L341.92,50.72 L342.43,50.68 L342.94,50.64 L343.45,50.60 L343.96,50.58 L344.47,50.61 L344.98,50.71 L345.49,50.91 L346.00,51.60 L346.00,51.60 L345.49,52.36 L344.98,52.63 L344.47,52.80 L343.96,52.90 L343.45,52.95 L342.94,52.98 L342.43,53.01 L341.92,53.04 L341.41,53.07 L340.90,53.10 L340.39,53.13 L339.88,53.16 L339.37,53.19 L338.86,53.22 L338.35,53.25 L337.84,53.28 L337.33,53.31 L336.82,53.34 L336.31,53.37 L335.80,53.40 L335.29,53.43 L334.78,53.46 L334.27,53.49 L333.76,53.52 L333.25,53.55 L332.74,53.58 L332.23,53.61 L331.72,53.64 L331.21,53.67 L330.70,53.70 L330.19,53.73 L329.68,53.76 L329.17,53.79 L328.66,53.82 L328.15,53.85 L327.64,53.86 L327.13,53.83 L326.62,53.74 L326.11,53.57 L325.60,53.00Z" fill="#0a1013" fill-opacity="1.0"/>
<path d="M278.60,69.30 L279.06,68.78 L279.52,68.60 L279.98,68.50 L280.44,68.43 L280.90,68.40 L281.36,68.40 L281.82,68.40 L282.28,68.40 L282.74,68.40 L283.20,68.40 L283.66,68.40 L284.12,68.40 L284.58,68.40 L285.04,68.40 L285.50,68.40 L285.96,68.40 L286.42,68.40 L286.88,68.40 L287.34,68.40 L287.80,68.40 L288.26,68.40 L288.72,68.40 L289.18,68.40 L289.64,68.40 L290.10,68.40 L290.56,68.40 L291.02,68.40 L291.48,68.40 L291.94,68.40 L292.40,68.40 L292.86,68.40 L293.32,68.40 L293.78,68.40 L294.24,68.40 L294.70,68.40 L295.16,68.43 L295.62,68.50 L296.08,68.60 L296.54,68.78 L297.00,69.30 L297.00,69.30 L296.54,69.82 L296.08,70.00 L295.62,70.10 L295.16,70.17 L294.70,70.20 L294.24,70.20 L293.78,70.20 L293.32,70.20 L292.86,70.20 L292.40,70.20 L291.94,70.20 L291.48,70.20 L291.02,70.20 L290.56,70.20 L290.10,70.20 L289.64,70.20 L289.18,70.20 L288.72,70.20 L288.26,70.20 L287.80,70.20 L287.34,70.20 L286.88,70.20 L286.42,70.20 L285.96,70.20 L285.50,70.20 L285.04,70.20 L284.58,70.20 L284.12,70.20 L283.66,70.20 L283.20,70.20 L282.74,70.20 L282.28,70.20 L281.82,70.20 L281.36,70.20 L280.90,70.20 L280.44,70.17 L279.98,70.10 L279.52,70.00 L279.06,69.82 L278.60,69.30Z" fill="#0a1013" fill-opacity="1.0"/>
<path d="M300.50,69.30 L300.99,68.77 L301.47,68.59 L301.95,68.48 L302.44,68.42 L302.93,68.40 L303.41,68.40 L303.89,68.40 L304.38,68.40 L304.87,68.40 L305.35,68.40 L305.83,68.40 L306.32,68.40 L306.81,68.40 L307.29,68.40 L307.77,68.40 L308.26,68.40 L308.75,68.40 L309.23,68.40 L309.71,68.40 L310.20,68.40 L310.69,68.40 L311.17,68.40 L311.65,68.40 L312.14,68.40 L312.62,68.40 L313.11,68.40 L313.59,68.40 L314.08,68.40 L314.56,68.40 L315.05,68.40 L315.53,68.40 L316.02,68.40 L316.50,68.40 L316.99,68.40 L317.47,68.40 L317.96,68.42 L318.44,68.48 L318.93,68.59 L319.41,68.77 L319.90,69.30 L319.90,69.30 L319.41,69.83 L318.93,70.01 L318.44,70.12 L317.96,70.18 L317.47,70.20 L316.99,70.20 L316.50,70.20 L316.02,70.20 L315.53,70.20 L315.05,70.20 L314.56,70.20 L314.08,70.20 L313.59,70.20 L313.11,70.20 L312.62,70.20 L312.14,70.20 L311.65,70.20 L311.17,70.20 L310.69,70.20 L310.20,70.20 L309.71,70.20 L309.23,70.20 L308.75,70.20 L308.26,70.20 L307.77,70.20 L307.29,70.20 L306.81,70.20 L306.32,70.20 L305.83,70.20 L305.35,70.20 L304.87,70.20 L304.38,70.20 L303.89,70.20 L303.41,70.20 L302.93,70.20 L302.44,70.18 L301.95,70.12 L301.47,70.01 L300.99,69.83 L300.50,69.30Z" fill="#0a1013" fill-opacity="1.0"/>
<path d="M323.10,69.00 L323.67,68.35 L324.23,68.14 L324.80,68.02 L325.36,67.95 L325.93,67.94 L326.49,67.92 L327.06,67.91 L327.62,67.90 L328.19,67.89 L328.75,67.88 L329.31,67.86 L329.88,67.85 L330.44,67.84 L331.01,67.83 L331.57,67.81 L332.14,67.80 L332.70,67.79 L333.27,67.78 L333.83,67.76 L334.40,67.75 L334.97,67.74 L335.53,67.72 L336.10,67.71 L336.66,67.70 L337.23,67.69 L337.79,67.67 L338.36,67.66 L338.92,67.65 L339.49,67.64 L340.05,67.62 L340.62,67.61 L341.18,67.60 L341.75,67.59 L342.31,67.58 L342.88,67.56 L343.44,67.55 L344.00,67.59 L344.57,67.69 L345.13,67.88 L345.70,68.50 L345.70,68.50 L345.13,69.15 L344.57,69.36 L344.00,69.48 L343.44,69.55 L342.88,69.56 L342.31,69.58 L341.75,69.59 L341.18,69.60 L340.62,69.61 L340.05,69.62 L339.49,69.64 L338.92,69.65 L338.36,69.66 L337.79,69.67 L337.23,69.69 L336.66,69.70 L336.10,69.71 L335.53,69.72 L334.97,69.74 L334.40,69.75 L333.83,69.76 L333.27,69.78 L332.70,69.79 L332.14,69.80 L331.57,69.81 L331.01,69.83 L330.44,69.84 L329.88,69.85 L329.31,69.86 L328.75,69.88 L328.19,69.89 L327.62,69.90 L327.06,69.91 L326.49,69.92 L325.93,69.94 L325.36,69.95 L324.80,69.91 L324.23,69.81 L323.67,69.62 L323.10,69.00Z" fill="#0a1013" fill-opacity="1.0"/>
</g>
<g filter="url(#bl2)"><rect x="135" y="92.5" width="16" height="6.5" fill="#0a1013" fill-opacity="0.08"/><rect x="217" y="94.5" width="18" height="4.5" fill="#0a1013" fill-opacity="0.05"/></g>
<rect x="7.1" y="148.1" width="219.6" height="395.4" fill="none" stroke="#c9d5e4" stroke-width="1.4"/>
<line x1="7" y1="543.6" x2="227" y2="543.6" stroke="#95a3bf" stroke-width="1.5"/>
<text x="8.9" y="157.8" font-family="Liberation Sans" font-size="11.4" fill="#111" text-anchor="start" font-weight="normal" textLength="5.3" lengthAdjust="spacingAndGlyphs" stroke="#111" stroke-width="0.05" >B</text>
<text x="106.1" y="159.8" font-family="Liberation Serif" font-size="8.6" fill="#222" text-anchor="start" font-weight="normal" textLength="20.1" lengthAdjust="spacingAndGlyphs" stroke="#222" stroke-width="0.22" >STAT1</text>
<line x1="62.9" y1="170.2" x2="62.9" y2="252.6" stroke="#a0a0a0" stroke-width="1"/>
<line x1="62.9" y1="251.0" x2="169.3" y2="251.0" stroke="#a8a8a8" stroke-width="1.3"/>
<line x1="60.9" y1="170.2" x2="62.9" y2="170.2" stroke="#777" stroke-width="0.8"/>
<text x="59.6" y="172.2" font-family="Liberation Sans" font-size="6.4" fill="#222" text-anchor="end" font-weight="bold" textLength="7.8" lengthAdjust="spacingAndGlyphs" stroke="#222" stroke-width="0.3" >150</text>
<line x1="60.9" y1="197.1" x2="62.9" y2="197.1" stroke="#777" stroke-width="0.8"/>
<text x="59.6" y="199.13333333333333" font-family="Liberation Sans" font-size="6.4" fill="#222" text-anchor="end" font-weight="bold" textLength="7.8" lengthAdjust="spacingAndGlyphs" stroke="#222" stroke-width="0.3" >100</text>
<line x1="60.9" y1="224.1" x2="62.9" y2="224.1" stroke="#777" stroke-width="0.8"/>
<text x="59.6" y="226.06666666666666" font-family="Liberation Sans" font-size="6.4" fill="#222" text-anchor="end" font-weight="bold" textLength="6.0" lengthAdjust="spacingAndGlyphs" stroke="#222" stroke-width="0.3" >50</text>
<line x1="98.4" y1="251.0" x2="98.4" y2="253.0" stroke="#777" stroke-width="0.8"/>
<line x1="133.8" y1="251.0" x2="133.8" y2="253.0" stroke="#777" stroke-width="0.8"/>
<line x1="169.3" y1="251.0" x2="169.3" y2="253.0" stroke="#777" stroke-width="0.8"/>
<text x="62.9" y="259.2" font-family="Liberation Sans" font-size="6.2" fill="#222" text-anchor="middle" font-weight="bold" textLength="5.4" lengthAdjust="spacingAndGlyphs" stroke="#222" stroke-width="0.3" >12</text>
<text x="98.4" y="259.2" font-family="Liberation Sans" font-size="6.2" fill="#222" text-anchor="middle" font-weight="bold" textLength="5.4" lengthAdjust="spacingAndGlyphs" stroke="#222" stroke-width="0.3" >24</text>
<text x="133.8" y="259.2" font-family="Liberation Sans" font-size="6.2" fill="#222" text-anchor="middle" font-weight="bold" textLength="5.4" lengthAdjust="spacingAndGlyphs" stroke="#222" stroke-width="0.3" >36</text>
<text x="169.3" y="259.2" font-family="Liberation Sans" font-size="6.2" fill="#222" text-anchor="middle" font-weight="bold" textLength="5.4" lengthAdjust="spacingAndGlyphs" stroke="#222" stroke-width="0.3" >48</text>
<text x="103.3" y="269.2" font-family="Liberation Serif" font-size="7.0" fill="#222" text-anchor="start" font-weight="normal" textLength="25.0" lengthAdjust="spacingAndGlyphs" stroke="#222" stroke-width="0.12" >Time (hrs)</text>
<text x="0" y="0" transform="translate(41.3,210.5) rotate(-90)" font-family="Liberation Serif" font-size="6.4" fill="#222" stroke="#222" stroke-width="0.06" text-anchor="middle" textLength="52.5" lengthAdjust="spacingAndGlyphs">%expression/Actin</text>
<polyline points="62.9,205.3 98.4,204.7 169.3,194.0" fill="none" stroke="#2020ff" stroke-width="0.7" stroke-opacity="0.85"/>
<line x1="62.9" y1="212.5" x2="62.9" y2="197.8" stroke="#2020ff" stroke-width="0.6" stroke-opacity="0.8"/>
<circle cx="62.9" cy="212.5" r="0.6" fill="#2020ff" fill-opacity="0.8"/>
<circle cx="62.9" cy="197.8" r="0.6" fill="#2020ff" fill-opacity="0.8"/>
<line x1="98.4" y1="210.5" x2="98.4" y2="198.1" stroke="#2020ff" stroke-width="0.6" stroke-opacity="0.8"/>
<circle cx="98.4" cy="210.5" r="0.6" fill="#2020ff" fill-opacity="0.8"/>
<circle cx="98.4" cy="198.1" r="0.6" fill="#2020ff" fill-opacity="0.8"/>
<line x1="169.3" y1="199.9" x2="169.3" y2="188.4" stroke="#2020ff" stroke-width="0.6" stroke-opacity="0.8"/>
<circle cx="169.3" cy="199.9" r="0.6" fill="#2020ff" fill-opacity="0.8"/>
<circle cx="169.3" cy="188.4" r="0.6" fill="#2020ff" fill-opacity="0.8"/>
<circle cx="62.9" cy="205.3" r="1.15" fill="#2020ff"/>
<circle cx="98.4" cy="204.7" r="1.15" fill="#2020ff"/>
<circle cx="169.3" cy="194.0" r="1.15" fill="#2020ff"/>
<polyline points="62.9,241.2 98.4,250.7" fill="none" stroke="#333" stroke-width="0.7" stroke-opacity="0.85"/>
<line x1="62.9" y1="247.0" x2="62.9" y2="235.5" stroke="#333" stroke-width="0.6" stroke-opacity="0.8"/>
<circle cx="62.9" cy="247.0" r="0.6" fill="#333" fill-opacity="0.8"/>
<circle cx="62.9" cy="235.5" r="0.6" fill="#333" fill-opacity="0.8"/>
<circle cx="62.9" cy="241.2" r="1.15" fill="#333"/>
<circle cx="98.4" cy="250.7" r="1.15" fill="#333"/>
<polyline points="62.9,223.1 98.4,247.8 169.3,250.6" fill="none" stroke="#cc3333" stroke-width="0.7" stroke-opacity="0.85"/>
<line x1="62.9" y1="233.8" x2="62.9" y2="214.0" stroke="#cc3333" stroke-width="0.6" stroke-opacity="0.8"/>
<circle cx="62.9" cy="233.8" r="0.6" fill="#cc3333" fill-opacity="0.8"/>
<circle cx="62.9" cy="214.0" r="0.6" fill="#cc3333" fill-opacity="0.8"/>
<circle cx="62.9" cy="223.1" r="1.15" fill="#cc3333"/>
<circle cx="98.4" cy="247.8" r="1.15" fill="#cc3333"/>
<circle cx="169.3" cy="250.6" r="1.15" fill="#cc3333"/>
<line x1="176.5" y1="175.0" x2="184.2" y2="175.0" stroke="#2020ff" stroke-width="0.7" stroke-opacity="0.8"/>
<circle cx="180.4" cy="175.0" r="0.95" fill="#2020ff"/>
<text x="188.3" y="176.9" font-family="Liberation Sans" font-size="5.0" fill="#444" text-anchor="start" font-weight="normal" textLength="10.9" lengthAdjust="spacingAndGlyphs" stroke="#444" stroke-width="0.15" >Mock</text>
<line x1="176.5" y1="184.8" x2="184.2" y2="184.8" stroke="#333" stroke-width="0.7" stroke-opacity="0.8"/>
<circle cx="180.4" cy="184.8" r="0.95" fill="#333"/>
<text x="188.3" y="186.7" font-family="Liberation Sans" font-size="5.0" fill="#444" stroke="#444" stroke-width="0.12">rJL<tspan font-size="3.4" dy="1">wt</tspan></text>
<line x1="176.5" y1="194.6" x2="184.2" y2="194.6" stroke="#cc3333" stroke-width="0.7" stroke-opacity="0.8"/>
<circle cx="180.4" cy="194.6" r="0.95" fill="#cc3333"/>
<text x="188.3" y="196.5" font-family="Liberation Sans" font-size="5.0" fill="#444" stroke="#444" stroke-width="0.12">rJL<tspan font-size="3.4" dy="1">E95D</tspan></text>
<text x="106.0" y="294.3" font-family="Liberation Serif" font-size="8.6" fill="#222" text-anchor="start" font-weight="normal" textLength="20.3" lengthAdjust="spacingAndGlyphs" stroke="#222" stroke-width="0.22" >STAT3</text>
<line x1="62.9" y1="304.7" x2="62.9" y2="386.5" stroke="#a0a0a0" stroke-width="1"/>
<line x1="62.9" y1="384.9" x2="168.2" y2="384.9" stroke="#a8a8a8" stroke-width="1.3"/>
<line x1="60.9" y1="304.7" x2="62.9" y2="304.7" stroke="#777" stroke-width="0.8"/>
<text x="59.6" y="306.7" font-family="Liberation Sans" font-size="6.4" fill="#222" text-anchor="end" font-weight="bold" textLength="7.8" lengthAdjust="spacingAndGlyphs" stroke="#222" stroke-width="0.3" >150</text>
<line x1="60.9" y1="331.4" x2="62.9" y2="331.4" stroke="#777" stroke-width="0.8"/>
<text x="59.6" y="333.43333333333334" font-family="Liberation Sans" font-size="6.4" fill="#222" text-anchor="end" font-weight="bold" textLength="7.8" lengthAdjust="spacingAndGlyphs" stroke="#222" stroke-width="0.3" >100</text>
<line x1="60.9" y1="358.2" x2="62.9" y2="358.2" stroke="#777" stroke-width="0.8"/>
<text x="59.6" y="360.16666666666663" font-family="Liberation Sans" font-size="6.4" fill="#222" text-anchor="end" font-weight="bold" textLength="6.0" lengthAdjust="spacingAndGlyphs" stroke="#222" stroke-width="0.3" >50</text>
<line x1="98.0" y1="384.9" x2="98.0" y2="386.9" stroke="#777" stroke-width="0.8"/>
<line x1="133.1" y1="384.9" x2="133.1" y2="386.9" stroke="#777" stroke-width="0.8"/>
<line x1="168.2" y1="384.9" x2="168.2" y2="386.9" stroke="#777" stroke-width="0.8"/>
<text x="62.9" y="393.09999999999997" font-family="Liberation Sans" font-size="6.2" fill="#222" text-anchor="middle" font-weight="bold" textLength="5.4" lengthAdjust="spacingAndGlyphs" stroke="#222" stroke-width="0.3" >12</text>
<text x="98.0" y="393.09999999999997" font-family="Liberation Sans" font-size="6.2" fill="#222" text-anchor="middle" font-weight="bold" textLength="5.4" lengthAdjust="spacingAndGlyphs" stroke="#222" stroke-width="0.3" >24</text>
<text x="133.1" y="393.09999999999997" font-family="Liberation Sans" font-size="6.2" fill="#222" text-anchor="middle" font-weight="bold" textLength="5.4" lengthAdjust="spacingAndGlyphs" stroke="#222" stroke-width="0.3" >36</text>
<text x="168.2" y="393.09999999999997" font-family="Liberation Sans" font-size="6.2" fill="#222" text-anchor="middle" font-weight="bold" textLength="5.4" lengthAdjust="spacingAndGlyphs" stroke="#222" stroke-width="0.3" >48</text>
<text x="103.3" y="403.09999999999997" font-family="Liberation Serif" font-size="7.0" fill="#222" text-anchor="start" font-weight="normal" textLength="25.0" lengthAdjust="spacingAndGlyphs" stroke="#222" stroke-width="0.12" >Time (hrs)</text>
<text x="0" y="0" transform="translate(41.3,345.0) rotate(-90)" font-family="Liberation Serif" font-size="6.4" fill="#222" stroke="#222" stroke-width="0.06" text-anchor="middle" textLength="52.5" lengthAdjust="spacingAndGlyphs">%expression/Actin</text>
<polyline points="62.9,342.4 98.0,336.9 168.2,334.3" fill="none" stroke="#2020ff" stroke-width="0.7" stroke-opacity="0.85"/>
<line x1="62.9" y1="349.0" x2="62.9" y2="335.0" stroke="#2020ff" stroke-width="0.6" stroke-opacity="0.8"/>
<circle cx="62.9" cy="349.0" r="0.6" fill="#2020ff" fill-opacity="0.8"/>
<circle cx="62.9" cy="335.0" r="0.6" fill="#2020ff" fill-opacity="0.8"/>
<line x1="98.0" y1="343.8" x2="98.0" y2="330.0" stroke="#2020ff" stroke-width="0.6" stroke-opacity="0.8"/>
<circle cx="98.0" cy="343.8" r="0.6" fill="#2020ff" fill-opacity="0.8"/>
<circle cx="98.0" cy="330.0" r="0.6" fill="#2020ff" fill-opacity="0.8"/>
<line x1="168.2" y1="344.6" x2="168.2" y2="323.4" stroke="#2020ff" stroke-width="0.6" stroke-opacity="0.8"/>
<circle cx="168.2" cy="344.6" r="0.6" fill="#2020ff" fill-opacity="0.8"/>
<circle cx="168.2" cy="323.4" r="0.6" fill="#2020ff" fill-opacity="0.8"/>
<circle cx="62.9" cy="342.4" r="1.15" fill="#2020ff"/>
<circle cx="98.0" cy="336.9" r="1.15" fill="#2020ff"/>
<circle cx="168.2" cy="334.3" r="1.15" fill="#2020ff"/>
<polyline points="62.9,375.9 98.0,384.5 168.2,384.9" fill="none" stroke="#333" stroke-width="0.7" stroke-opacity="0.85"/>
<circle cx="62.9" cy="375.9" r="1.15" fill="#333"/>
<circle cx="98.0" cy="384.5" r="1.15" fill="#333"/>
<circle cx="168.2" cy="384.9" r="1.15" fill="#333"/>
<polyline points="62.9,346.0 98.0,352.9 168.2,379.6" fill="none" stroke="#cc3333" stroke-width="0.7" stroke-opacity="0.85"/>
<line x1="98.0" y1="355.0" x2="98.0" y2="350.5" stroke="#cc3333" stroke-width="0.6" stroke-opacity="0.8"/>
<circle cx="98.0" cy="355.0" r="0.6" fill="#cc3333" fill-opacity="0.8"/>
<circle cx="98.0" cy="350.5" r="0.6" fill="#cc3333" fill-opacity="0.8"/>
<line x1="168.2" y1="381.5" x2="168.2" y2="377.5" stroke="#cc3333" stroke-width="0.6" stroke-opacity="0.8"/>
<circle cx="168.2" cy="381.5" r="0.6" fill="#cc3333" fill-opacity="0.8"/>
<circle cx="168.2" cy="377.5" r="0.6" fill="#cc3333" fill-opacity="0.8"/>
<circle cx="62.9" cy="346.0" r="1.15" fill="#cc3333"/>
<circle cx="98.0" cy="352.9" r="1.15" fill="#cc3333"/>
<circle cx="168.2" cy="379.6" r="1.15" fill="#cc3333"/>
<line x1="175.4" y1="309.5" x2="183.1" y2="309.5" stroke="#2020ff" stroke-width="0.7" stroke-opacity="0.8"/>
<circle cx="179.3" cy="309.5" r="0.95" fill="#2020ff"/>
<text x="187.2" y="311.4" font-family="Liberation Sans" font-size="5.0" fill="#444" text-anchor="start" font-weight="normal" textLength="10.9" lengthAdjust="spacingAndGlyphs" stroke="#444" stroke-width="0.15" >Mock</text>
<line x1="175.4" y1="319.3" x2="183.1" y2="319.3" stroke="#333" stroke-width="0.7" stroke-opacity="0.8"/>
<circle cx="179.3" cy="319.3" r="0.95" fill="#333"/>
<text x="187.2" y="321.2" font-family="Liberation Sans" font-size="5.0" fill="#444" stroke="#444" stroke-width="0.12">rJL<tspan font-size="3.4" dy="1">wt</tspan></text>
<line x1="175.4" y1="329.1" x2="183.1" y2="329.1" stroke="#cc3333" stroke-width="0.7" stroke-opacity="0.8"/>
<circle cx="179.3" cy="329.1" r="0.95" fill="#cc3333"/>
<text x="187.2" y="331.0" font-family="Liberation Sans" font-size="5.0" fill="#444" stroke="#444" stroke-width="0.12">rJL<tspan font-size="3.4" dy="1">E95D</tspan></text>
<text x="113.7" y="427.7" font-family="Liberation Serif" font-size="7.6" fill="#222" text-anchor="start" font-weight="normal" textLength="4.4" lengthAdjust="spacingAndGlyphs" stroke="#222" stroke-width="0.22" >V</text>
<line x1="62.9" y1="437.8" x2="62.9" y2="519.3000000000001" stroke="#a0a0a0" stroke-width="1"/>
<line x1="62.9" y1="517.7" x2="168.2" y2="517.7" stroke="#a8a8a8" stroke-width="1.3"/>
<line x1="60.9" y1="437.8" x2="62.9" y2="437.8" stroke="#777" stroke-width="0.8"/>
<text x="59.6" y="439.8" font-family="Liberation Sans" font-size="6.4" fill="#222" text-anchor="end" font-weight="bold" textLength="7.8" lengthAdjust="spacingAndGlyphs" stroke="#222" stroke-width="0.3" >150</text>
<line x1="60.9" y1="464.4" x2="62.9" y2="464.4" stroke="#777" stroke-width="0.8"/>
<text x="59.6" y="466.43333333333334" font-family="Liberation Sans" font-size="6.4" fill="#222" text-anchor="end" font-weight="bold" textLength="7.8" lengthAdjust="spacingAndGlyphs" stroke="#222" stroke-width="0.3" >100</text>
<line x1="60.9" y1="491.1" x2="62.9" y2="491.1" stroke="#777" stroke-width="0.8"/>
<text x="59.6" y="493.0666666666667" font-family="Liberation Sans" font-size="6.4" fill="#222" text-anchor="end" font-weight="bold" textLength="6.0" lengthAdjust="spacingAndGlyphs" stroke="#222" stroke-width="0.3" >50</text>
<line x1="98.0" y1="517.7" x2="98.0" y2="519.7" stroke="#777" stroke-width="0.8"/>
<line x1="133.1" y1="517.7" x2="133.1" y2="519.7" stroke="#777" stroke-width="0.8"/>
<line x1="168.2" y1="517.7" x2="168.2" y2="519.7" stroke="#777" stroke-width="0.8"/>
<text x="62.9" y="525.9000000000001" font-family="Liberation Sans" font-size="6.2" fill="#222" text-anchor="middle" font-weight="bold" textLength="5.4" lengthAdjust="spacingAndGlyphs" stroke="#222" stroke-width="0.3" >12</text>
<text x="98.0" y="525.9000000000001" font-family="Liberation Sans" font-size="6.2" fill="#222" text-anchor="middle" font-weight="bold" textLength="5.4" lengthAdjust="spacingAndGlyphs" stroke="#222" stroke-width="0.3" >24</text>
<text x="133.1" y="525.9000000000001" font-family="Liberation Sans" font-size="6.2" fill="#222" text-anchor="middle" font-weight="bold" textLength="5.4" lengthAdjust="spacingAndGlyphs" stroke="#222" stroke-width="0.3" >36</text>
<text x="168.2" y="525.9000000000001" font-family="Liberation Sans" font-size="6.2" fill="#222" text-anchor="middle" font-weight="bold" textLength="5.4" lengthAdjust="spacingAndGlyphs" stroke="#222" stroke-width="0.3" >48</text>
<text x="103.3" y="535.9000000000001" font-family="Liberation Serif" font-size="7.0" fill="#222" text-anchor="start" font-weight="normal" textLength="25.0" lengthAdjust="spacingAndGlyphs" stroke="#222" stroke-width="0.12" >Time (hrs)</text>
<text x="0" y="0" transform="translate(41.3,478.1) rotate(-90)" font-family="Liberation Serif" font-size="6.4" fill="#222" stroke="#222" stroke-width="0.06" text-anchor="middle" textLength="52.5" lengthAdjust="spacingAndGlyphs">%expression/Actin</text>
<polyline points="62.9,517.7 98.0,517.7 168.2,517.7" fill="none" stroke="#2020ff" stroke-width="1.2" stroke-opacity="0.85"/>
<circle cx="62.9" cy="517.7" r="1.15" fill="#2020ff"/>
<circle cx="98.0" cy="517.7" r="1.15" fill="#2020ff"/>
<circle cx="168.2" cy="517.7" r="1.15" fill="#2020ff"/>
<polyline points="62.9,517.5 98.0,509.7 168.2,447.2" fill="none" stroke="#cc3333" stroke-width="0.7" stroke-opacity="0.85"/>
<line x1="98.0" y1="513.0" x2="98.0" y2="506.0" stroke="#cc3333" stroke-width="0.6" stroke-opacity="0.8"/>
<circle cx="98.0" cy="513.0" r="0.6" fill="#cc3333" fill-opacity="0.8"/>
<circle cx="98.0" cy="506.0" r="0.6" fill="#cc3333" fill-opacity="0.8"/>
<line x1="168.2" y1="460.0" x2="168.2" y2="438.1" stroke="#cc3333" stroke-width="0.6" stroke-opacity="0.8"/>
<circle cx="168.2" cy="460.0" r="0.6" fill="#cc3333" fill-opacity="0.8"/>
<circle cx="168.2" cy="438.1" r="0.6" fill="#cc3333" fill-opacity="0.8"/>
<circle cx="62.9" cy="517.5" r="1.15" fill="#cc3333"/>
<circle cx="98.0" cy="509.7" r="1.15" fill="#cc3333"/>
<circle cx="168.2" cy="447.2" r="1.15" fill="#cc3333"/>
<polyline points="62.9,517.3 98.0,493.3 168.2,514.0" fill="none" stroke="#333" stroke-width="0.7" stroke-opacity="0.85"/>
<line x1="98.0" y1="497.0" x2="98.0" y2="489.5" stroke="#333" stroke-width="0.6" stroke-opacity="0.8"/>
<circle cx="98.0" cy="497.0" r="0.6" fill="#333" fill-opacity="0.8"/>
<circle cx="98.0" cy="489.5" r="0.6" fill="#333" fill-opacity="0.8"/>
<circle cx="62.9" cy="517.3" r="1.15" fill="#333"/>
<circle cx="98.0" cy="493.3" r="1.15" fill="#333"/>
<circle cx="168.2" cy="514.0" r="1.15" fill="#333"/>
<line x1="175.4" y1="442.6" x2="183.1" y2="442.6" stroke="#2020ff" stroke-width="0.7" stroke-opacity="0.8"/>
<circle cx="179.3" cy="442.6" r="0.95" fill="#2020ff"/>
<text x="187.2" y="444.5" font-family="Liberation Sans" font-size="5.0" fill="#444" text-anchor="start" font-weight="normal" textLength="10.9" lengthAdjust="spacingAndGlyphs" stroke="#444" stroke-width="0.15" >Mock</text>
<line x1="175.4" y1="452.4" x2="183.1" y2="452.4" stroke="#333" stroke-width="0.7" stroke-opacity="0.8"/>
<circle cx="179.3" cy="452.4" r="0.95" fill="#333"/>
<text x="187.2" y="454.3" font-family="Liberation Sans" font-size="5.0" fill="#444" stroke="#444" stroke-width="0.12">rJL<tspan font-size="3.4" dy="1">wt</tspan></text>
<line x1="175.4" y1="462.2" x2="183.1" y2="462.2" stroke="#cc3333" stroke-width="0.7" stroke-opacity="0.8"/>
<circle cx="179.3" cy="462.2" r="0.95" fill="#cc3333"/>
<text x="187.2" y="464.1" font-family="Liberation Sans" font-size="5.0" fill="#444" stroke="#444" stroke-width="0.12">rJL<tspan font-size="3.4" dy="1">E95D</tspan></text>
<text x="231.7" y="156.8" font-family="Liberation Sans" font-size="10.8" fill="#111" text-anchor="start" font-weight="normal" textLength="6.4" lengthAdjust="spacingAndGlyphs" stroke="#111" stroke-width="0.2" >C</text>
<polyline points="274.55,212.09 274.80,211.89 275.05,211.54 275.30,210.98 275.55,210.13 275.80,208.96 276.05,207.48 276.30,205.75 276.55,203.94 276.80,202.28 277.05,201.01 277.30,200.36 277.55,200.43 277.80,201.22 278.05,202.59 278.30,204.30 278.55,206.11 278.80,207.80 279.05,209.22 279.30,210.33 279.55,211.11 279.80,211.63 280.05,211.94 280.30,212.12" fill="none" stroke="#505050" stroke-width="0.75" stroke-linejoin="round"/>
<polyline points="308.05,212.16 308.30,211.98 308.55,211.62 308.80,210.97 309.05,209.82 309.30,207.98 309.55,205.22 309.80,201.40 310.05,196.54 310.30,190.89 310.55,184.99 310.80,179.56 311.05,175.43 311.30,173.30 311.55,173.54 311.80,176.11 312.05,180.56 312.30,186.15 312.55,192.06 312.80,197.59 313.05,202.25 313.30,205.85 313.55,208.41 313.80,210.10 314.05,211.13 314.30,211.72 314.55,212.03 314.80,212.18" fill="none" stroke="#505050" stroke-width="0.75" stroke-linejoin="round"/>
<polyline points="317.55,212.17 317.80,212.02 318.05,211.75 318.30,211.26 318.55,210.47 318.80,209.26 319.05,207.56 319.30,205.36 319.55,202.75 319.80,199.96 320.05,197.32 320.30,195.22 320.55,194.01 320.80,193.89 321.05,194.90 321.30,196.85 321.55,199.41 321.80,202.20 322.05,204.86 322.30,207.16 322.55,208.96 322.80,210.26 323.05,211.13 323.30,211.67 323.55,211.98 323.80,212.15" fill="none" stroke="#505050" stroke-width="0.75" stroke-linejoin="round"/>
<polyline points="366.05,212.03 366.30,211.73 366.55,211.15 366.80,210.14 367.05,208.48 367.30,205.97 367.55,202.43 367.80,197.85 368.05,192.43 368.30,186.62 368.55,181.13 368.80,176.76 369.05,174.23 369.30,173.99 369.55,176.09 369.80,180.14 370.05,185.47 370.30,191.28 370.55,196.82 370.80,201.60 371.05,205.35 371.30,208.06 371.55,209.87 371.80,210.99 372.05,211.64 372.30,211.98 372.55,212.16" fill="none" stroke="#505050" stroke-width="0.75" stroke-linejoin="round"/>
<polyline points="407.30,212.12 407.55,211.91 407.80,211.53 408.05,210.88 408.30,209.82 408.55,208.24 408.80,206.04 409.05,203.25 409.30,200.01 409.55,196.62 409.80,193.51 410.05,191.14 410.30,189.91 410.55,190.05 410.80,191.53 411.05,194.08 411.30,197.29 411.55,200.67 411.80,203.83 412.05,206.46 412.30,208.43 412.55,209.70 412.80,210.28 413.05,210.15 413.30,209.25 413.55,207.47 413.80,204.67 414.05,200.78 414.30,195.88 414.55,190.28 414.80,184.56 415.05,179.46 415.30,175.78 415.55,174.15 415.80,174.86 416.05,177.78 416.30,182.40 416.55,187.97 416.80,193.71 417.05,198.95 417.30,203.29 417.55,206.59 417.80,208.90 418.05,210.40 418.30,211.30 418.55,211.81 418.80,212.07" fill="none" stroke="#505050" stroke-width="0.75" stroke-linejoin="round"/>
<polyline points="269.55,212.09 269.80,211.86 270.05,211.44 270.30,210.73 270.55,209.60 270.80,207.93 271.05,205.65 271.30,202.81 271.55,199.57 271.80,196.25 272.05,193.30 272.30,191.17 272.55,190.23 272.80,190.64 273.05,192.33 273.30,195.00 273.55,198.23 273.80,201.54 274.05,204.58 274.30,207.09 274.55,209.00 274.80,210.33 275.05,211.20 275.30,211.72 275.55,212.02 275.80,212.17" fill="none" stroke="#3fc03f" stroke-width="0.75" stroke-linejoin="round"/>
<polyline points="279.30,212.08 279.55,211.81 279.80,211.29 280.05,210.33 280.30,208.69 280.55,206.09 280.80,202.25 281.05,197.02 281.30,190.48 281.55,183.03 281.80,175.41 282.05,168.63 282.30,163.74 282.55,161.56 282.80,162.51 283.05,166.39 283.30,172.54 283.55,179.95 283.80,187.57 284.05,194.55 284.30,200.32 284.55,204.71 284.80,207.78 285.05,209.77 285.30,210.97 285.55,211.65 285.80,212.00 286.05,212.17" fill="none" stroke="#3fc03f" stroke-width="0.75" stroke-linejoin="round"/>
<polyline points="312.80,212.18 313.05,212.02 313.30,211.71 313.55,211.11 313.80,210.07 314.05,208.35 314.30,205.75 314.55,202.10 314.80,197.36 315.05,191.76 315.30,185.75 315.55,180.08 315.80,175.56 316.05,172.95 316.30,172.70 316.55,174.86 316.80,179.06 317.05,184.57 317.30,190.57 317.55,196.30 317.80,201.23 318.05,205.11 318.30,207.91 318.55,209.78 318.80,210.94 319.05,211.61 319.30,211.97 319.55,212.15" fill="none" stroke="#3fc03f" stroke-width="0.75" stroke-linejoin="round"/>
<polyline points="375.05,212.06 375.30,211.81 375.55,211.37 375.80,210.63 376.05,209.49 376.30,207.87 376.55,205.73 376.80,203.15 377.05,200.33 377.30,197.59 377.55,195.31 377.80,193.87 378.05,193.52 378.30,194.33 378.55,196.14 378.80,198.65 379.05,201.47 379.30,204.22 379.55,206.64 379.80,208.58 380.05,210.00 380.30,210.97 380.55,211.57 380.80,211.93 381.05,212.12" fill="none" stroke="#3fc03f" stroke-width="0.75" stroke-linejoin="round"/>
<polyline points="384.05,212.12 384.30,211.93 384.55,211.57 384.80,210.97 385.05,210.00 385.30,208.58 385.55,206.64 385.80,204.22 386.05,201.47 386.30,198.65 386.55,196.14 386.80,194.33 387.05,193.52 387.30,193.87 387.55,195.31 387.80,197.58 388.05,200.32 388.30,203.12 388.55,205.66 388.80,207.71 389.05,209.16 389.30,209.97 389.55,210.15 389.80,209.69 390.05,208.59 390.30,206.85 390.55,204.53 390.80,201.80 391.05,198.91 391.30,196.26 391.55,194.24 391.80,193.19 392.05,193.31 392.30,194.57 392.55,196.74 392.80,199.46 393.05,202.31 393.30,204.92 393.55,207.00 393.80,208.40 394.05,209.02 394.30,208.83 394.55,207.81 394.80,205.98 395.05,203.44 395.30,200.39 395.55,197.15 395.80,194.17 396.05,191.89 396.30,190.71 396.55,190.84 396.80,192.27 397.05,194.73 397.30,197.83 397.55,201.10 397.80,204.16 398.05,206.74 398.30,208.73 398.55,210.15 398.80,211.08 399.05,211.65 399.30,211.98 399.55,212.15" fill="none" stroke="#3fc03f" stroke-width="0.75" stroke-linejoin="round"/>
<polyline points="402.55,212.07 402.80,211.83 403.05,211.41 403.30,210.71 403.55,209.63 403.80,208.08 404.05,206.04 404.30,203.59 404.55,200.90 404.80,198.29 405.05,196.12 405.30,194.75 405.55,194.42 405.80,195.19 406.05,196.91 406.30,199.30 406.55,201.99 406.80,204.61 407.05,206.92 407.30,208.76 407.55,210.11 407.80,211.03 408.05,211.61 408.30,211.94 408.55,212.13" fill="none" stroke="#3fc03f" stroke-width="0.75" stroke-linejoin="round"/>
<polyline points="417.55,212.14 417.80,211.96 418.05,211.60 418.30,210.95 418.55,209.85 418.80,208.13 419.05,205.64 419.30,202.30 419.55,198.20 419.80,193.62 420.05,189.05 420.30,185.12 420.55,182.45 420.80,181.50 421.05,182.45 421.30,185.12 421.55,189.05 421.80,193.62 422.05,198.20 422.30,202.30 422.55,205.64 422.80,208.13 423.05,209.85 423.30,210.95 423.55,211.60 423.80,211.96 424.05,212.14" fill="none" stroke="#3fc03f" stroke-width="0.75" stroke-linejoin="round"/>
<polyline points="259.80,212.06 260.05,211.80 260.30,211.31 260.55,210.46 260.80,209.09 261.05,207.04 261.30,204.21 261.55,200.60 261.80,196.41 262.05,192.02 262.30,187.99 262.55,184.93 262.80,183.35 263.05,183.53 263.30,185.44 263.55,188.74 263.80,192.89 264.05,197.28 264.30,201.38 264.55,204.84 264.80,207.51 265.05,209.42 265.30,210.67 265.55,211.43 265.80,211.87 266.05,212.10" fill="none" stroke="#ff5050" stroke-width="0.75" stroke-linejoin="round"/>
<polyline points="283.80,212.07 284.05,211.81 284.30,211.33 284.55,210.49 284.80,209.15 285.05,207.13 285.30,204.35 285.55,200.80 285.80,196.68 286.05,192.37 286.30,188.41 286.55,185.40 286.80,183.84 287.05,184.02 287.30,185.90 287.55,189.14 287.80,193.20 288.05,197.48 288.30,201.44 288.55,204.69 288.80,207.02 289.05,208.34 289.30,208.63 289.55,207.89 289.80,206.11 290.05,203.35 290.30,199.71 290.55,195.50 290.80,191.15 291.05,187.28 291.30,184.48 291.55,183.24 291.80,183.78 292.05,186.00 292.30,189.52 292.55,193.77 292.80,198.14 293.05,202.13 293.30,205.44 293.55,207.95 293.80,209.71 294.05,210.85 294.30,211.54 294.55,211.92 294.80,212.13" fill="none" stroke="#ff5050" stroke-width="0.75" stroke-linejoin="round"/>
<polyline points="303.05,212.18 303.30,212.03 303.55,211.74 303.80,211.22 304.05,210.35 304.30,208.98 304.55,207.00 304.80,204.35 305.05,201.08 305.30,197.44 305.55,193.81 305.80,190.68 306.05,188.55 306.30,187.80 306.55,188.55 306.80,190.68 307.05,193.81 307.30,197.44 307.55,201.08 307.80,204.35 308.05,207.00 308.30,208.98 308.55,210.35 308.80,211.22 309.05,211.74 309.30,212.03 309.55,212.18" fill="none" stroke="#ff5050" stroke-width="0.75" stroke-linejoin="round"/>
<polyline points="341.80,212.13 342.05,211.93 342.30,211.55 342.55,210.86 342.80,209.73 343.05,207.98 343.30,205.49 343.55,202.20 343.80,198.23 344.05,193.90 344.30,189.68 344.55,186.18 344.80,183.97 345.05,183.44 345.30,184.67 345.55,187.46 345.80,191.31 346.05,195.64 346.30,199.87 346.55,203.56 346.80,206.48 347.05,208.53 347.30,209.75 347.55,210.18 347.80,209.85 348.05,208.71 348.30,206.68 348.55,203.69 348.80,199.74 349.05,195.05 349.30,190.02 349.55,185.26 349.80,181.47 350.05,179.27 350.30,179.07 350.55,180.88 350.80,184.40 351.05,189.01 351.30,194.03 351.55,198.79 351.80,202.82 352.05,205.85 352.30,207.78 352.55,208.59 352.80,208.31 353.05,206.93 353.30,204.46 353.55,200.96 353.80,196.62 354.05,191.84 354.30,187.17 354.55,183.29 354.80,180.83 355.05,180.24 355.30,181.61 355.55,184.69 355.80,188.96 356.05,193.73 356.30,198.34 356.55,202.28 356.80,205.21 357.05,206.97 357.30,207.51 357.55,206.84 357.80,205.02 358.05,202.14 358.30,198.43 358.55,194.28 358.80,190.20 359.05,186.81 359.30,184.66 359.55,184.13 359.80,185.34 360.05,188.05 360.30,191.81 360.55,196.03 360.80,200.12 361.05,203.67 361.30,206.41 361.55,208.21 361.80,209.06 362.05,208.96 362.30,207.92 362.55,205.93 362.80,203.02 363.05,199.34 363.30,195.18 363.55,191.01 363.80,187.41 364.05,184.97 364.30,184.10 364.55,184.97 364.80,187.41 365.05,191.01 365.30,195.20 365.55,199.39 365.80,203.14 366.05,206.20 366.30,208.48 366.55,210.06 366.80,211.06 367.05,211.66 367.30,211.99 367.55,212.16" fill="none" stroke="#ff5050" stroke-width="0.75" stroke-linejoin="round"/>
<polyline points="254.80,212.16 255.05,211.99 255.30,211.66 255.55,211.06 255.80,210.02 256.05,208.37 256.30,205.95 256.55,202.64 256.80,198.51 257.05,193.80 257.30,188.99 257.55,184.71 257.80,181.61 258.05,180.24 258.30,180.84 258.55,183.29 258.80,187.18 259.05,191.86 259.30,196.68 259.55,201.08 259.80,204.73 260.05,207.50 260.30,209.45 260.55,210.70 260.80,211.46 261.05,211.89 261.30,212.11" fill="none" stroke="#5a5aff" stroke-width="0.75" stroke-linejoin="round"/>
<polyline points="265.05,212.04 265.30,211.75 265.55,211.23 265.80,210.34 266.05,208.92 266.30,206.84 266.55,204.00 266.80,200.44 267.05,196.40 267.30,192.26 267.55,188.57 267.80,185.91 268.05,184.73 268.30,185.25 268.55,187.36 268.80,190.70 269.05,194.72 269.30,198.87 269.55,202.65 269.80,205.79 270.05,208.18 270.30,209.85 270.55,210.93 270.80,211.58 271.05,211.94 271.30,212.14" fill="none" stroke="#5a5aff" stroke-width="0.75" stroke-linejoin="round"/>
<polyline points="293.30,212.17 293.55,212.01 293.80,211.70 294.05,211.13 294.30,210.16 294.55,208.62 294.80,206.34 295.05,203.25 295.30,199.37 295.55,194.96 295.80,190.44 296.05,186.43 296.30,183.52 296.55,182.24 296.80,182.80 297.05,185.10 297.30,188.73 297.55,193.11 297.80,197.59 298.05,201.65 298.30,204.93 298.55,207.23 298.80,208.52 299.05,208.81 299.30,208.12 299.55,206.48 299.80,203.97 300.05,200.73 300.30,197.04 300.55,193.34 300.80,190.14 301.05,187.97 301.30,187.20 301.55,187.97 301.80,190.15 302.05,193.35 302.30,197.08 302.55,200.81 302.80,204.15 303.05,206.87 303.30,208.90 303.55,210.30 303.80,211.20 304.05,211.73 304.30,212.02 304.55,212.17" fill="none" stroke="#5a5aff" stroke-width="0.75" stroke-linejoin="round"/>
<polyline points="322.80,212.10 323.05,211.87 323.30,211.45 323.55,210.72 323.80,209.54 324.05,207.78 324.30,205.35 324.55,202.25 324.80,198.65 325.05,194.88 325.30,191.42 325.55,188.79 325.80,187.42 326.05,187.58 326.30,189.22 326.55,192.06 326.80,195.62 327.05,199.37 327.30,202.85 327.55,205.74 327.80,207.85 328.05,209.14 328.30,209.57 328.55,209.16 328.80,207.85 329.05,205.62 329.30,202.45 329.55,198.49 329.80,194.03 330.05,189.57 330.30,185.74 330.55,183.13 330.80,182.20 331.05,183.12 331.30,185.72 331.55,189.54 331.80,193.96 332.05,198.32 332.30,202.11 332.55,204.95 332.80,206.64 333.05,207.11 333.30,206.34 333.55,204.39 333.80,201.38 334.05,197.59 334.30,193.43 334.55,189.44 334.80,186.26 335.05,184.41 335.30,184.24 335.55,185.77 335.80,188.74 336.05,192.64 336.30,196.88 336.55,200.91 336.80,204.33 337.05,206.93 337.30,208.61 337.55,209.39 337.80,209.27 338.05,208.26 338.30,206.31 338.55,203.44 338.80,199.76 339.05,195.51 339.30,191.16 339.55,187.28 339.80,184.48 340.05,183.24 340.30,183.78 340.55,186.00 340.80,189.52 341.05,193.77 341.30,198.14 341.55,202.13 341.80,205.44 342.05,207.95 342.30,209.71 342.55,210.85 342.80,211.54 343.05,211.92 343.30,212.13" fill="none" stroke="#5a5aff" stroke-width="0.75" stroke-linejoin="round"/>
<polyline points="370.55,212.18 370.80,212.03 371.05,211.76 371.30,211.25 371.55,210.40 371.80,209.07 372.05,207.13 372.30,204.54 372.55,201.36 372.80,197.80 373.05,194.26 373.30,191.21 373.55,189.14 373.80,188.40 374.05,189.14 374.30,191.21 374.55,194.26 374.80,197.80 375.05,201.36 375.30,204.54 375.55,207.13 375.80,209.07 376.05,210.40 376.30,211.25 376.55,211.76 376.80,212.03 377.05,212.18" fill="none" stroke="#5a5aff" stroke-width="0.75" stroke-linejoin="round"/>
<polyline points="379.30,212.10 379.55,211.88 379.80,211.47 380.05,210.76 380.30,209.62 380.55,207.91 380.80,205.54 381.05,202.53 381.30,199.03 381.55,195.37 381.80,192.00 382.05,189.44 382.30,188.12 382.55,188.27 382.80,189.87 383.05,192.63 383.30,196.09 383.55,199.76 383.80,203.18 384.05,206.07 384.30,208.30 384.55,209.89 384.80,210.94 385.05,211.57 385.30,211.94 385.55,212.13" fill="none" stroke="#5a5aff" stroke-width="0.75" stroke-linejoin="round"/>
<polyline points="397.80,212.09 398.05,211.85 398.30,211.42 398.55,210.66 398.80,209.44 399.05,207.62 399.30,205.10 399.55,201.89 399.80,198.16 400.05,194.25 400.30,190.67 400.55,187.94 400.80,186.53 401.05,186.69 401.30,188.39 401.55,191.33 401.80,195.03 402.05,198.93 402.30,202.58 402.55,205.66 402.80,208.04 403.05,209.73 403.30,210.85 403.55,211.53 403.80,211.91 404.05,212.12" fill="none" stroke="#5a5aff" stroke-width="0.75" stroke-linejoin="round"/>
<polyline points="422.30,212.05 422.55,211.79 422.80,211.32 423.05,210.52 423.30,209.27 423.55,207.46 423.80,205.03 424.05,202.04 424.30,198.71 424.55,195.39 424.80,192.53 425.05,190.59 425.30,189.90 425.55,190.59 425.80,192.53 426.05,195.39 426.30,198.71 426.55,202.04 426.80,205.03 427.05,207.46 427.30,209.27 427.55,210.52 427.80,211.32" fill="none" stroke="#5a5aff" stroke-width="0.75" stroke-linejoin="round"/>
<line x1="255.8" y1="212.3" x2="428.0" y2="212.3" stroke="#b8a0b8" stroke-width="0.7"/>
<polyline points="274.95,268.61 275.20,268.43 275.45,268.10 275.70,267.59 275.95,266.81 276.20,265.74 276.45,264.38 276.70,262.79 276.95,261.14 277.20,259.61 277.45,258.45 277.70,257.85 277.95,257.92 278.20,258.65 278.45,259.89 278.70,261.46 278.95,263.12 279.20,264.67 279.45,265.98 279.70,266.99 279.95,267.71 280.20,268.18 280.45,268.47 280.70,268.64" fill="none" stroke="#505050" stroke-width="0.75" stroke-linejoin="round"/>
<polyline points="308.20,268.66 308.45,268.48 308.70,268.11 308.95,267.42 309.20,266.21 309.45,264.23 309.70,261.22 309.95,256.98 310.20,251.50 310.45,245.00 310.70,238.05 310.95,231.48 311.20,226.24 311.45,223.22 311.70,222.93 311.95,225.44 312.20,230.29 312.45,236.68 312.70,243.63 312.95,250.27 313.20,255.98 313.45,260.47 313.70,263.72 313.95,265.89 314.20,267.23 314.45,268.01 314.70,268.42 314.95,268.63" fill="none" stroke="#505050" stroke-width="0.75" stroke-linejoin="round"/>
<polyline points="366.20,268.62 366.45,268.41 366.70,267.99 366.95,267.21 367.20,265.89 367.45,263.79 367.70,260.69 367.95,256.47 368.20,251.19 368.45,245.17 368.70,239.03 368.95,233.56 369.20,229.60 369.45,227.85 369.70,228.61 369.95,231.75 370.20,236.71 370.45,242.69 370.70,248.84 370.95,254.47 371.20,259.13 371.45,262.68 371.70,265.15 371.95,266.76 372.20,267.73 372.45,268.27 372.70,268.55" fill="none" stroke="#505050" stroke-width="0.75" stroke-linejoin="round"/>
<polyline points="407.45,268.66 407.70,268.49 407.95,268.18 408.20,267.64 408.45,266.75 408.70,265.40 408.95,263.49 409.20,261.03 409.45,258.11 409.70,254.99 409.95,252.04 410.20,249.69 410.45,248.33 410.70,248.20 410.95,249.33 411.20,251.51 411.45,254.37 411.70,257.48 411.95,260.43 412.20,262.93 412.45,264.80 412.70,265.96 412.95,266.38 413.20,266.01 413.45,264.77 413.70,262.53 413.95,259.21 414.20,254.84 414.45,249.64 414.70,244.05 414.95,238.76 415.20,234.55 415.45,232.11 415.70,231.88 415.95,233.90 416.20,237.81 416.45,242.95 416.70,248.54 416.95,253.89 417.20,258.48 417.45,262.10 417.70,264.71 417.95,266.45 418.20,267.54 418.45,268.16 418.70,268.50 418.95,268.66" fill="none" stroke="#505050" stroke-width="0.75" stroke-linejoin="round"/>
<polyline points="269.95,268.60 270.20,268.39 270.45,268.00 270.70,267.33 270.95,266.27 271.20,264.70 271.45,262.57 271.70,259.91 271.95,256.87 272.20,253.77 272.45,251.01 272.70,249.01 272.95,248.13 273.20,248.51 273.45,250.09 273.70,252.60 273.95,255.62 274.20,258.72 274.45,261.57 274.70,263.92 274.95,265.71 275.20,266.96 275.45,267.77 275.70,268.26 275.95,268.53 276.20,268.68" fill="none" stroke="#3fc03f" stroke-width="0.75" stroke-linejoin="round"/>
<polyline points="279.70,268.60 279.95,268.36 280.20,267.88 280.45,267.00 280.70,265.50 280.95,263.11 281.20,259.60 281.45,254.81 281.70,248.83 281.95,242.01 282.20,235.03 282.45,228.83 282.70,224.35 282.95,222.36 283.20,223.22 283.45,226.78 283.70,232.40 283.95,239.19 284.20,246.17 284.45,252.55 284.70,257.84 284.95,261.85 285.20,264.67 285.45,266.49 285.70,267.59 285.95,268.20 286.20,268.52 286.45,268.68" fill="none" stroke="#3fc03f" stroke-width="0.75" stroke-linejoin="round"/>
<polyline points="313.20,268.68 313.45,268.52 313.70,268.21 313.95,267.62 314.20,266.59 314.45,264.89 314.70,262.32 314.95,258.70 315.20,254.01 315.45,248.46 315.70,242.52 315.95,236.90 316.20,232.43 316.45,229.84 316.70,229.60 316.95,231.74 317.20,235.89 317.45,241.35 317.70,247.28 317.95,252.96 318.20,257.85 318.45,261.68 318.70,264.46 318.95,266.31 319.20,267.46 319.45,268.12 319.70,268.48 319.95,268.66" fill="none" stroke="#3fc03f" stroke-width="0.75" stroke-linejoin="round"/>
<polyline points="375.20,268.65 375.45,268.49 375.70,268.18 375.95,267.66 376.20,266.80 376.45,265.53 376.70,263.77 376.95,261.52 377.20,258.92 377.45,256.19 377.70,253.68 377.95,251.78 378.20,250.79 378.45,250.90 378.70,252.09 378.95,254.15 379.20,256.73 379.45,259.46 379.70,262.01 379.95,264.16 380.20,265.82 380.45,267.01 380.70,267.78 380.95,268.26 381.20,268.53 381.45,268.67" fill="none" stroke="#3fc03f" stroke-width="0.75" stroke-linejoin="round"/>
<polyline points="383.95,268.63 384.20,268.45 384.45,268.13 384.70,267.56 384.95,266.67 385.20,265.36 385.45,263.57 385.70,261.33 385.95,258.77 386.20,256.17 386.45,253.84 386.70,252.17 386.95,251.42 387.20,251.74 387.45,253.07 387.70,255.18 387.95,257.71 388.20,260.31 388.45,262.67 388.70,264.59 388.95,265.97 389.20,266.79 389.45,267.05 389.70,266.77 389.95,265.93 390.20,264.52 390.45,262.57 390.70,260.17 390.95,257.52 391.20,254.94 391.45,252.80 391.70,251.45 391.95,251.12 392.20,251.88 392.45,253.58 392.70,255.93 392.95,258.55 393.20,261.09 393.45,263.23 393.70,264.81 393.95,265.71 394.20,265.88 394.45,265.32 394.70,264.04 394.95,262.10 395.20,259.62 395.45,256.86 395.70,254.15 395.95,251.90 396.20,250.47 396.45,250.12 396.70,250.92 396.95,252.72 397.20,255.22 397.45,258.02 397.70,260.77 397.95,263.17 398.20,265.10 398.45,266.51 398.70,267.47 398.95,268.08 399.20,268.43 399.45,268.62" fill="none" stroke="#3fc03f" stroke-width="0.75" stroke-linejoin="round"/>
<polyline points="402.70,268.62 402.95,268.43 403.20,268.09 403.45,267.52 403.70,266.62 403.95,265.32 404.20,263.57 404.45,261.43 404.70,259.03 404.95,256.65 405.20,254.59 405.45,253.20 405.70,252.70 405.95,253.20 406.20,254.59 406.45,256.65 406.70,259.03 406.95,261.43 407.20,263.57 407.45,265.32 407.70,266.62 407.95,267.52 408.20,268.09 408.45,268.43 408.70,268.62" fill="none" stroke="#3fc03f" stroke-width="0.75" stroke-linejoin="round"/>
<polyline points="417.70,268.55 417.95,268.28 418.20,267.76 418.45,266.88 418.70,265.45 418.95,263.31 419.20,260.35 419.45,256.58 419.70,252.20 419.95,247.62 420.20,243.41 420.45,240.21 420.70,238.55 420.95,238.74 421.20,240.74 421.45,244.19 421.70,248.52 421.95,253.11 422.20,257.39 422.45,261.01 422.70,263.80 422.95,265.79 423.20,267.09 423.45,267.89 423.70,268.35 423.95,268.59" fill="none" stroke="#3fc03f" stroke-width="0.75" stroke-linejoin="round"/>
<polyline points="425.45,268.67 425.70,268.52 425.95,268.24 426.20,267.74 426.45,266.94 426.70,265.71 426.95,263.98 427.20,261.74 427.45,259.10 427.70,256.26 427.95,253.58 428.20,251.45 428.45,250.21 428.70,250.09 428.95,251.12 429.20,253.10" fill="none" stroke="#3fc03f" stroke-width="0.75" stroke-linejoin="round"/>
<polyline points="260.45,268.60 260.70,268.38 260.95,267.96 261.20,267.23 261.45,266.02 261.70,264.19 261.95,261.62 262.20,258.29 262.45,254.35 262.70,250.12 262.95,246.13 263.20,242.95 263.45,241.11 263.70,240.94 263.95,242.46 264.20,245.41 264.45,249.29 264.70,253.51 264.95,257.54 265.20,261.01 265.45,263.74 265.70,265.71 265.95,267.03 266.20,267.85 266.45,268.32 266.70,268.57" fill="none" stroke="#ff5050" stroke-width="0.75" stroke-linejoin="round"/>
<polyline points="284.20,268.68 284.45,268.53 284.70,268.24 284.95,267.70 285.20,266.78 285.45,265.33 285.70,263.18 285.95,260.26 286.20,256.60 286.45,252.44 286.70,248.18 286.95,244.39 287.20,241.65 287.45,240.43 287.70,240.96 287.95,243.13 288.20,246.55 288.45,250.66 288.70,254.85 288.95,258.59 289.20,261.52 289.45,263.41 289.70,264.17 289.95,263.76 290.20,262.18 290.45,259.50 290.70,255.87 290.95,251.61 291.20,247.20 291.45,243.26 291.70,240.40 291.95,239.14 292.20,239.69 292.45,241.96 292.70,245.55 292.95,249.89 293.20,254.34 293.45,258.42 293.70,261.80 293.95,264.36 294.20,266.16 294.45,267.32 294.70,268.02 294.95,268.42 295.20,268.62" fill="none" stroke="#ff5050" stroke-width="0.75" stroke-linejoin="round"/>
<polyline points="303.45,268.63 303.70,268.43 303.95,268.07 304.20,267.42 304.45,266.37 304.70,264.77 304.95,262.52 305.20,259.60 305.45,256.15 305.70,252.46 305.95,248.97 306.20,246.18 306.45,244.57 306.70,244.42 306.95,245.76 307.20,248.34 307.45,251.73 307.70,255.42 307.95,258.95 308.20,261.99 308.45,264.37 308.70,266.10 308.95,267.25 309.20,267.97 309.45,268.38 309.70,268.60" fill="none" stroke="#ff5050" stroke-width="0.75" stroke-linejoin="round"/>
<polyline points="317.95,268.54 318.20,268.25 318.45,267.71 318.70,266.75 318.95,265.17 319.20,262.78 319.45,259.42 319.70,255.06 319.95,249.91 320.20,244.39 320.45,239.17 320.70,235.01 320.95,232.61 321.20,232.38 321.45,234.37 321.70,238.23 321.95,243.30 322.20,248.81 322.45,254.09 322.70,258.62 322.95,262.19 323.20,264.76 323.45,266.49 323.70,267.55 323.95,268.17 324.20,268.50 324.45,268.67" fill="none" stroke="#ff5050" stroke-width="0.75" stroke-linejoin="round"/>
<polyline points="342.20,268.57 342.45,268.31 342.70,267.83 342.95,267.00 343.20,265.67 343.45,263.67 343.70,260.90 343.95,257.38 344.20,253.29 344.45,249.01 344.70,245.08 344.95,242.09 345.20,240.54 345.45,240.72 345.70,242.58 345.95,245.80 346.20,249.85 346.45,254.11 346.70,258.07 346.95,261.35 347.20,263.75 347.45,265.20 347.70,265.70 347.95,265.23 348.20,263.75 348.45,261.20 348.70,257.61 348.95,253.11 349.20,248.04 349.45,242.98 349.70,238.62 349.95,235.65 350.20,234.60 350.45,235.65 350.70,238.62 350.95,242.98 351.20,248.03 351.45,253.08 351.70,257.56 351.95,261.10 352.20,263.54 352.45,264.86 352.70,265.05 352.95,264.16 353.20,262.17 353.45,259.12 353.70,255.15 353.95,250.56 354.20,245.84 354.45,241.63 354.70,238.59 354.95,237.24 355.20,237.82 355.45,240.24 355.70,244.06 355.95,248.66 356.20,253.38 356.45,257.65 356.70,261.12 356.95,263.59 357.20,265.02 357.45,265.43 357.70,264.84 357.95,263.26 358.20,260.71 358.45,257.30 358.70,253.26 358.95,249.00 359.20,245.07 359.45,242.09 359.70,240.54 359.95,240.72 360.20,242.58 360.45,245.79 360.70,249.81 360.95,254.03 361.20,257.91 361.45,261.02 361.70,263.15 361.95,264.16 362.20,264.03 362.45,262.75 362.70,260.37 362.95,257.02 363.20,252.99 363.45,248.70 363.70,244.73 363.95,241.71 364.20,240.14 364.45,240.32 364.70,242.21 364.95,245.48 365.20,249.59 365.45,253.93 365.70,257.99 365.95,261.42 366.20,264.06 366.45,265.94 366.70,267.18 366.95,267.94 367.20,268.37 367.45,268.60" fill="none" stroke="#ff5050" stroke-width="0.75" stroke-linejoin="round"/>
<polyline points="255.70,268.55 255.95,268.28 256.20,267.78 256.45,266.90 256.70,265.48 256.95,263.36 257.20,260.43 257.45,256.70 257.70,252.36 257.95,247.83 258.20,243.66 258.45,240.49 258.70,238.85 258.95,239.04 259.20,241.01 259.45,244.43 259.70,248.72 259.95,253.26 260.20,257.50 260.45,261.08 260.70,263.85 260.95,265.82 261.20,267.11 261.45,267.90 261.70,268.35 261.95,268.59" fill="none" stroke="#5a5aff" stroke-width="0.75" stroke-linejoin="round"/>
<polyline points="265.70,268.55 265.95,268.28 266.20,267.78 266.45,266.90 266.70,265.48 266.95,263.36 267.20,260.43 267.45,256.70 267.70,252.36 267.95,247.83 268.20,243.66 268.45,240.49 268.70,238.85 268.95,239.04 269.20,241.01 269.45,244.43 269.70,248.72 269.95,253.26 270.20,257.50 270.45,261.08 270.70,263.85 270.95,265.82 271.20,267.11 271.45,267.90 271.70,268.35 271.95,268.59" fill="none" stroke="#5a5aff" stroke-width="0.75" stroke-linejoin="round"/>
<polyline points="293.95,268.64 294.20,268.45 294.45,268.08 294.70,267.41 294.95,266.29 295.20,264.52 295.45,261.97 295.70,258.54 295.95,254.33 296.20,249.63 296.45,244.95 296.70,240.91 296.95,238.17 297.20,237.20 297.45,238.17 297.70,240.90 297.95,244.93 298.20,249.58 298.45,254.21 298.70,258.27 298.95,261.41 299.20,263.45 299.45,264.34 299.70,264.10 299.95,262.78 300.20,260.49 300.45,257.42 300.70,253.87 300.95,250.28 301.20,247.17 301.45,245.05 301.70,244.30 301.95,245.05 302.20,247.18 302.45,250.31 302.70,253.94 302.95,257.58 303.20,260.85 303.45,263.50 303.70,265.48 303.95,266.85 304.20,267.72 304.45,268.24 304.70,268.53 304.95,268.68" fill="none" stroke="#5a5aff" stroke-width="0.75" stroke-linejoin="round"/>
<polyline points="322.70,268.64 322.95,268.45 323.20,268.08 323.45,267.43 323.70,266.35 323.95,264.69 324.20,262.32 324.45,259.19 324.70,255.41 324.95,251.29 325.20,247.28 325.45,243.95 325.70,241.84 325.95,241.33 326.20,242.51 326.45,245.16 326.70,248.82 326.95,252.94 327.20,256.94 327.45,260.42 327.70,263.12 327.95,264.94 328.20,265.87 328.45,265.91 328.70,265.08 328.95,263.33 329.20,260.67 329.45,257.17 329.70,253.05 329.95,248.72 330.20,244.74 330.45,241.71 330.70,240.14 330.95,240.32 331.20,242.21 331.45,245.48 331.70,249.58 331.95,253.90 332.20,257.91 332.45,261.22 332.70,263.65 332.95,265.12 333.20,265.64 333.45,265.21 333.70,263.85 333.95,261.55 334.20,258.39 334.45,254.57 334.70,250.44 334.95,246.53 335.20,243.41 335.45,241.61 335.70,241.44 335.95,242.93 336.20,245.82 336.45,249.62 336.70,253.74 336.95,257.65 337.20,260.93 337.45,263.37 337.70,264.85 337.95,265.35 338.20,264.88 338.45,263.43 338.70,261.04 338.95,257.80 339.20,253.96 339.45,249.90 339.70,246.16 339.95,243.31 340.20,241.83 340.45,242.00 340.70,243.78 340.95,246.86 341.20,250.72 341.45,254.81 341.70,258.63 341.95,261.85 342.20,264.34 342.45,266.11 342.70,267.28 342.95,267.99 343.20,268.40 343.45,268.61" fill="none" stroke="#5a5aff" stroke-width="0.75" stroke-linejoin="round"/>
<polyline points="370.70,268.61 370.95,268.40 371.20,268.01 371.45,267.33 371.70,266.24 371.95,264.61 372.20,262.35 372.45,259.47 372.70,256.13 372.95,252.63 373.20,249.42 373.45,246.98 373.70,245.72 373.95,245.86 374.20,247.38 374.45,250.02 374.70,253.33 374.95,256.82 375.20,260.09 375.45,262.85 375.70,264.98 375.95,266.50 376.20,267.50 376.45,268.11 376.70,268.45 376.95,268.64" fill="none" stroke="#5a5aff" stroke-width="0.75" stroke-linejoin="round"/>
<polyline points="379.45,268.58 379.70,268.35 379.95,267.92 380.20,267.18 380.45,266.01 380.70,264.29 380.95,261.94 381.20,259.01 381.45,255.66 381.70,252.24 381.95,249.20 382.20,247.00 382.45,246.03 382.70,246.45 382.95,248.20 383.20,250.95 383.45,254.28 383.70,257.70 383.95,260.83 384.20,263.42 384.45,265.39 384.70,266.77 384.95,267.67 385.20,268.20 385.45,268.51 385.70,268.66" fill="none" stroke="#5a5aff" stroke-width="0.75" stroke-linejoin="round"/>
<polyline points="397.95,268.68 398.20,268.54 398.45,268.26 398.70,267.76 398.95,266.92 399.20,265.61 399.45,263.70 399.70,261.14 399.95,258.00 400.20,254.49 400.45,250.99 400.70,247.97 400.95,245.93 401.20,245.20 401.45,245.93 401.70,247.97 401.95,250.99 402.20,254.49 402.45,258.00 402.70,261.14 402.95,263.70 403.20,265.61 403.45,266.92 403.70,267.76 403.95,268.26 404.20,268.54 404.45,268.68" fill="none" stroke="#5a5aff" stroke-width="0.75" stroke-linejoin="round"/>
<polyline points="422.20,268.63 422.45,268.45 422.70,268.11 422.95,267.52 423.20,266.56 423.45,265.13 423.70,263.16 423.95,260.64 424.20,257.71 424.45,254.65 424.70,251.84 424.95,249.71 425.20,248.60 425.45,248.73 425.70,250.06 425.95,252.37 426.20,255.26 426.45,258.32 426.70,261.18 426.95,263.60 427.20,265.46 427.45,266.79 427.70,267.66 427.95,268.19 428.20,268.50 428.45,268.66" fill="none" stroke="#5a5aff" stroke-width="0.75" stroke-linejoin="round"/>
<line x1="256.2" y1="268.8" x2="429.2" y2="268.8" stroke="#b8a0b8" stroke-width="0.7"/>
<rect x="318.6" y="191.6" width="4.2" height="77.6" fill="none" stroke="#8aa3cf" stroke-width="0.7"/>
<text x="318.2" y="221.4" font-family="Liberation Sans" font-size="8.2" fill="#222" text-anchor="start" font-weight="normal" textLength="32.0" lengthAdjust="spacingAndGlyphs" stroke="#222" stroke-width="0.15" >G (nt.285)</text>
<text x="319.1" y="276.4" font-family="Liberation Sans" font-size="7.8" fill="#e02020" text-anchor="start" font-weight="normal" >T</text>
<text x="434.2" y="204.1" font-family="Liberation Serif" font-size="6.8" fill="#222" stroke="#222" stroke-width="0.2">rJL<tspan font-size="5.0" dy="1.3" stroke-width="0.1">WT</tspan></text>
<text x="434.7" y="264.6" font-family="Liberation Serif" font-size="7.3" fill="#222" stroke="#222" stroke-width="0.2">rJL<tspan font-size="5.7" dy="1.9" stroke-width="0.1">E95D</tspan></text>
</svg>
</body></html>
